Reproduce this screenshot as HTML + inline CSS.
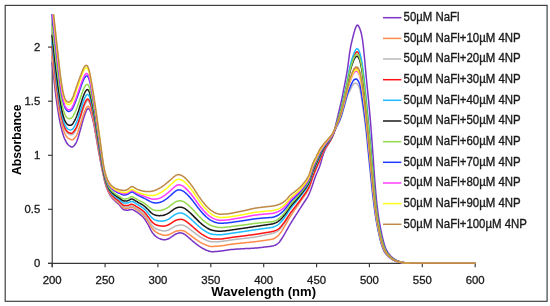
<!DOCTYPE html>
<html><head><meta charset="utf-8"><title>chart</title>
<style>
html,body{margin:0;padding:0;background:#fff;}
body{width:550px;height:306px;overflow:hidden;}
svg{display:block;}
text{font-family:"Liberation Sans",sans-serif;fill:#1a1a1a;}
.t{font-size:11.3px;stroke:#1a1a1a;stroke-width:0.3px;}
.b{font-size:13px;font-weight:bold;fill:#000;}
.l{font-size:12.2px;stroke:#1a1a1a;stroke-width:0.35px;}
</style></head><body>
<svg width="550" height="306" viewBox="0 0 550 306">
<rect x="0" y="0" width="550" height="306" fill="#fff"/>
<rect x="5.2" y="5.4" width="541.9" height="295.9" fill="none" stroke="#404040" stroke-width="1.2"/>

<g stroke="#383838" stroke-width="1.15" fill="none">
<path d="M52.2 14.3V267.2M48 263.4H475.2"/>
<path d="M48 263.4H52.2"/>
<path d="M48 209.3H52.2"/>
<path d="M48 155.3H52.2"/>
<path d="M48 101.2H52.2"/>
<path d="M48 47.1H52.2"/>
<path d="M52.2 263.4V267.2"/>
<path d="M105.1 263.4V267.2"/>
<path d="M157.9 263.4V267.2"/>
<path d="M210.8 263.4V267.2"/>
<path d="M263.7 263.4V267.2"/>
<path d="M316.6 263.4V267.2"/>
<path d="M369.4 263.4V267.2"/>
<path d="M422.3 263.4V267.2"/>
<path d="M475.2 263.4V267.2"/>
</g>
<text class="t" x="40.3" y="267.3" text-anchor="end">0</text>
<text class="t" x="40.3" y="213.2" text-anchor="end">0.5</text>
<text class="t" x="40.3" y="159.2" text-anchor="end">1</text>
<text class="t" x="40.3" y="105.1" text-anchor="end">1.5</text>
<text class="t" x="40.3" y="51.0" text-anchor="end">2</text>
<text class="t" x="52.2" y="283.8" text-anchor="middle" textLength="19" lengthAdjust="spacingAndGlyphs">200</text>
<text class="t" x="105.1" y="283.8" text-anchor="middle" textLength="19" lengthAdjust="spacingAndGlyphs">250</text>
<text class="t" x="157.9" y="283.8" text-anchor="middle" textLength="19" lengthAdjust="spacingAndGlyphs">300</text>
<text class="t" x="210.8" y="283.8" text-anchor="middle" textLength="19" lengthAdjust="spacingAndGlyphs">350</text>
<text class="t" x="263.7" y="283.8" text-anchor="middle" textLength="19" lengthAdjust="spacingAndGlyphs">400</text>
<text class="t" x="316.6" y="283.8" text-anchor="middle" textLength="19" lengthAdjust="spacingAndGlyphs">450</text>
<text class="t" x="369.4" y="283.8" text-anchor="middle" textLength="19" lengthAdjust="spacingAndGlyphs">500</text>
<text class="t" x="422.3" y="283.8" text-anchor="middle" textLength="19" lengthAdjust="spacingAndGlyphs">550</text>
<text class="t" x="475.2" y="283.8" text-anchor="middle" textLength="19" lengthAdjust="spacingAndGlyphs">600</text>
<text class="b" x="263.7" y="296.2" text-anchor="middle" textLength="104.7" lengthAdjust="spacingAndGlyphs">Wavelength (nm)</text>
<text class="b" transform="translate(21.2 139.8) rotate(-90)" text-anchor="middle" textLength="70.5" lengthAdjust="spacingAndGlyphs">Absorbance</text>
<defs><clipPath id="c"><rect x="50" y="14.3" width="430" height="251"/></clipPath></defs>
<g fill="none" stroke-width="1.5" stroke-linejoin="round" stroke-linecap="round" clip-path="url(#c)">
<polyline stroke="#7a35c4" points="52.0,62.7 52.5,66.1 53.0,70.4 53.5,75.0 54.0,79.7 54.5,84.3 55.0,88.7 55.5,92.9 56.0,96.9 56.5,100.7 57.0,104.3 57.5,107.6 58.0,110.9 58.5,113.9 59.0,116.8 59.5,119.5 60.0,122.0 60.5,124.3 61.0,126.6 61.5,128.7 62.0,130.7 62.5,132.5 63.0,134.2 63.5,135.8 64.0,137.2 64.5,138.5 65.0,139.6 65.5,140.7 66.0,141.6 66.5,142.5 67.0,143.3 67.5,143.9 68.0,144.5 68.5,145.0 69.0,145.5 69.5,145.9 70.0,146.2 70.5,146.5 71.0,146.8 71.5,146.9 72.0,147.0 72.5,146.9 73.0,146.6 73.5,146.3 74.0,145.8 74.5,145.2 75.0,144.5 75.5,143.8 76.0,143.0 76.5,142.0 77.0,140.8 77.5,139.4 78.0,137.9 78.5,136.2 79.0,134.5 79.5,132.8 80.0,131.0 80.5,129.3 81.0,127.5 81.5,125.7 82.0,123.9 82.5,122.0 83.0,120.3 83.5,118.6 84.0,117.0 84.5,115.5 85.0,114.0 85.5,112.7 86.0,111.5 86.5,110.4 87.0,109.6 87.5,109.0 88.0,108.7 88.5,108.7 89.0,109.0 89.5,109.6 90.0,110.5 90.5,111.7 91.0,113.2 91.5,114.9 92.0,116.7 92.5,118.6 93.0,120.6 93.5,122.7 94.0,125.1 94.5,127.6 95.0,130.3 95.5,133.1 96.0,136.1 96.5,139.1 97.0,142.1 97.5,145.1 98.0,148.0 98.5,150.8 99.0,153.5 99.5,156.2 100.0,158.9 100.5,161.5 101.0,164.1 101.5,166.6 102.0,169.1 102.5,171.5 103.0,173.8 103.5,176.1 104.0,178.4 104.5,180.5 105.0,182.5 105.5,184.3 106.0,186.0 106.5,187.4 107.0,188.8 107.5,190.0 108.0,191.2 108.5,192.3 109.0,193.2 109.5,194.2 110.0,195.0 110.5,195.8 111.0,196.5 111.5,197.1 112.0,197.8 112.5,198.4 113.0,198.9 113.5,199.5 114.0,200.0 114.5,200.5 115.0,201.0 115.5,201.4 116.0,201.9 116.5,202.3 117.0,202.7 117.5,203.2 118.0,203.6 118.5,204.0 119.0,204.5 119.5,205.1 120.0,205.7 120.5,206.3 121.0,207.0 121.5,207.6 122.0,208.3 122.5,208.8 123.0,209.2 123.5,209.6 124.0,209.8 124.5,209.9 125.0,210.0 125.5,210.1 126.0,210.1 126.5,210.2 127.0,210.2 127.5,210.2 128.0,210.2 128.5,210.1 129.0,210.0 129.5,209.8 130.0,209.7 130.5,209.5 131.0,209.4 131.5,209.3 132.0,209.4 132.5,209.6 133.0,209.8 133.5,210.1 134.0,210.4 134.5,210.7 135.0,211.0 135.5,211.3 136.0,211.6 136.5,211.9 137.0,212.2 137.5,212.5 138.0,212.9 138.5,213.2 139.0,213.6 139.5,214.0 140.0,214.4 140.5,214.8 141.0,215.2 141.5,215.6 142.0,216.0 142.5,216.5 143.0,217.0 143.5,217.6 144.0,218.2 144.5,218.8 145.0,219.5 145.5,220.3 146.0,221.1 146.5,221.9 147.0,222.8 147.5,223.6 148.0,224.5 148.5,225.4 149.0,226.4 149.5,227.4 150.0,228.4 150.5,229.4 151.0,230.3 151.5,231.2 152.0,232.0 152.5,232.7 153.0,233.4 153.5,234.0 154.0,234.6 154.5,235.1 155.0,235.6 155.5,236.1 156.0,236.5 156.5,236.9 157.0,237.2 157.5,237.6 158.0,237.9 158.5,238.1 159.0,238.4 159.5,238.6 160.0,238.8 160.5,239.0 161.0,239.2 161.5,239.3 162.0,239.5 162.5,239.6 163.0,239.7 163.5,239.8 164.0,239.8 164.5,239.8 165.0,239.7 165.5,239.7 166.0,239.6 166.5,239.4 167.0,239.3 167.5,239.2 168.0,239.0 168.5,238.8 169.0,238.5 169.5,238.2 170.0,237.9 170.5,237.6 171.0,237.2 171.5,236.9 172.0,236.5 172.5,236.2 173.0,235.8 173.5,235.5 174.0,235.1 174.5,234.8 175.0,234.5 175.5,234.2 176.0,234.0 176.5,233.8 177.0,233.6 177.5,233.4 178.0,233.2 178.5,233.1 179.0,233.0 179.5,232.9 180.0,232.8 180.5,232.8 181.0,232.9 181.5,233.0 182.0,233.1 182.5,233.3 183.0,233.5 183.5,233.7 184.0,234.0 184.5,234.3 185.0,234.6 185.5,234.9 186.0,235.3 186.5,235.7 187.0,236.2 187.5,236.6 188.0,237.0 188.5,237.4 189.0,237.8 189.5,238.3 190.0,238.7 190.5,239.1 191.0,239.6 191.5,240.0 192.0,240.5 192.5,240.9 193.0,241.4 193.5,241.8 194.0,242.2 194.5,242.6 195.0,243.0 195.5,243.4 196.0,243.8 196.5,244.2 197.0,244.5 197.5,244.9 198.0,245.3 198.5,245.7 199.0,246.0 199.5,246.4 200.0,246.7 200.5,247.1 201.0,247.4 201.5,247.7 202.0,248.0 202.5,248.2 203.0,248.5 203.5,248.7 204.0,249.0 204.5,249.2 205.0,249.5 205.5,249.7 206.0,250.0 206.5,250.2 207.0,250.4 207.5,250.6 208.0,250.8 208.5,251.0 209.0,251.2 209.5,251.3 210.0,251.5 210.5,251.6 211.0,251.6 211.5,251.7 212.0,251.7 212.5,251.7 213.0,251.7 213.5,251.7 214.0,251.7 214.5,251.6 215.0,251.6 215.5,251.6 216.0,251.5 216.5,251.5 217.0,251.4 217.5,251.4 218.0,251.3 218.5,251.3 219.0,251.2 219.5,251.2 220.0,251.1 220.5,251.1 221.0,251.0 221.5,251.0 222.0,250.9 222.5,250.8 223.0,250.8 223.5,250.7 224.0,250.6 224.5,250.6 225.0,250.5 225.5,250.4 226.0,250.3 226.5,250.2 227.0,250.1 227.5,250.0 228.0,250.0 228.5,249.9 229.0,249.8 229.5,249.8 230.0,249.7 230.5,249.6 231.0,249.6 231.5,249.5 232.0,249.5 232.5,249.5 233.0,249.4 233.5,249.4 234.0,249.3 234.5,249.3 235.0,249.2 235.5,249.2 236.0,249.2 236.5,249.1 237.0,249.1 237.5,249.1 238.0,249.0 238.5,249.0 239.0,249.0 239.5,248.9 240.0,248.9 240.5,248.9 241.0,248.8 241.5,248.8 242.0,248.8 242.5,248.8 243.0,248.7 243.5,248.7 244.0,248.7 244.5,248.7 245.0,248.6 245.5,248.6 246.0,248.6 246.5,248.6 247.0,248.5 247.5,248.5 248.0,248.5 248.5,248.5 249.0,248.4 249.5,248.4 250.0,248.4 250.5,248.4 251.0,248.3 251.5,248.3 252.0,248.3 252.5,248.3 253.0,248.2 253.5,248.2 254.0,248.2 254.5,248.1 255.0,248.1 255.5,248.1 256.0,248.0 256.5,248.0 257.0,247.9 257.5,247.9 258.0,247.8 258.5,247.8 259.0,247.7 259.5,247.7 260.0,247.6 260.5,247.6 261.0,247.5 261.5,247.4 262.0,247.4 262.5,247.3 263.0,247.2 263.5,247.2 264.0,247.1 264.5,247.1 265.0,247.0 265.5,246.9 266.0,246.9 266.5,246.8 267.0,246.8 267.5,246.7 268.0,246.7 268.5,246.6 269.0,246.6 269.5,246.5 270.0,246.4 270.5,246.4 271.0,246.3 271.5,246.2 272.0,246.1 272.5,246.0 273.0,245.9 273.5,245.8 274.0,245.6 274.5,245.4 275.0,245.2 275.5,245.0 276.0,244.8 276.5,244.5 277.0,244.2 277.5,243.9 278.0,243.5 278.5,243.0 279.0,242.5 279.5,241.9 280.0,241.2 280.5,240.5 281.0,239.8 281.5,239.0 282.0,238.3 282.5,237.5 283.0,236.7 283.5,235.8 284.0,235.0 284.5,234.1 285.0,233.3 285.5,232.4 286.0,231.5 286.5,230.6 287.0,229.7 287.5,228.8 288.0,227.9 288.5,227.0 289.0,226.1 289.5,225.3 290.0,224.4 290.5,223.6 291.0,222.8 291.5,222.0 292.0,221.2 292.5,220.4 293.0,219.6 293.5,218.8 294.0,218.0 294.5,217.3 295.0,216.5 295.5,215.7 296.0,214.9 296.5,214.1 297.0,213.3 297.5,212.6 298.0,211.8 298.5,211.0 299.0,210.2 299.5,209.4 300.0,208.6 300.5,207.9 301.0,207.1 301.5,206.3 302.0,205.5 302.5,204.7 303.0,204.0 303.5,203.2 304.0,202.5 304.5,201.8 305.0,201.0 305.5,200.3 306.0,199.5 306.5,198.7 307.0,197.9 307.5,197.1 308.0,196.2 308.5,195.2 309.0,194.1 309.5,193.0 310.0,191.8 310.5,190.5 311.0,189.2 311.5,187.8 312.0,186.4 312.5,184.9 313.0,183.4 313.5,181.9 314.0,180.5 314.5,179.1 315.0,177.7 315.5,176.3 316.0,175.0 316.5,173.8 317.0,172.7 317.5,171.5 318.0,170.4 318.5,169.3 319.0,168.1 319.5,166.8 320.0,165.4 320.5,163.8 321.0,162.1 321.5,160.2 322.0,158.4 322.5,156.7 323.0,155.2 323.5,153.8 324.0,152.5 324.5,151.3 325.0,150.1 325.5,149.1 326.0,148.0 326.5,147.1 327.0,146.2 327.5,145.4 328.0,144.6 328.5,143.8 329.0,143.0 329.5,142.1 330.0,141.2 330.5,140.2 331.0,139.2 331.5,138.2 332.0,137.0 332.5,135.8 333.0,134.4 333.5,132.9 334.0,131.2 334.5,129.5 335.0,127.6 335.5,125.6 336.0,123.6 336.5,121.6 337.0,119.5 337.5,117.4 338.0,115.3 338.5,113.2 339.0,111.1 339.5,109.1 340.0,107.0 340.5,104.8 341.0,102.6 341.5,100.4 342.0,98.0 342.5,95.6 343.0,93.1 343.5,90.5 344.0,87.9 344.5,85.3 345.0,82.7 345.5,80.2 346.0,77.6 346.5,75.0 347.0,72.1 347.5,68.9 348.0,65.3 348.5,61.4 349.0,57.5 349.5,53.8 350.0,50.6 350.5,47.7 351.0,45.2 351.5,42.9 352.0,40.8 352.5,38.7 353.0,36.7 353.5,34.8 354.0,32.9 354.5,31.1 355.0,29.5 355.5,28.0 356.0,26.8 356.5,25.9 357.0,25.3 357.5,25.1 358.0,25.3 358.5,25.9 359.0,26.8 359.5,27.9 360.0,29.2 360.5,30.7 361.0,32.3 361.5,34.3 362.0,36.8 362.5,39.9 363.0,43.6 363.5,48.0 364.0,52.8 364.5,58.0 365.0,63.5 365.5,69.1 366.0,74.6 366.5,79.9 367.0,85.0 367.5,90.0 368.0,94.9 368.5,99.9 369.0,105.1 369.5,110.5 370.0,116.1 370.5,122.1 371.0,128.3 371.5,134.7 372.0,141.4 372.5,148.2 373.0,155.2 373.5,162.4 374.0,169.6 374.5,176.6 375.0,183.2 375.5,189.4 376.0,195.0 376.5,200.2 377.0,204.9 377.5,209.1 378.0,213.0 378.5,216.4 379.0,219.6 379.5,222.6 380.0,225.4 380.5,228.1 381.0,230.6 381.5,233.0 382.0,235.4 382.5,237.5 383.0,239.6 383.5,241.5 384.0,243.3 384.5,244.9 385.0,246.4 385.5,247.8 386.0,249.0 386.5,250.0 387.0,251.0 387.5,251.8 388.0,252.6 388.5,253.3 389.0,254.0 389.5,254.6 390.0,255.2 390.5,255.8 391.0,256.3 391.5,256.8 392.0,257.2 392.5,257.6 393.0,258.0 393.5,258.4 394.0,258.7 394.5,259.1 395.0,259.4 395.5,259.7 396.0,260.0 396.5,260.3 397.0,260.6 397.5,260.8 398.0,261.0 398.5,261.2 399.0,261.3 399.5,261.5 400.0,261.6 400.5,261.8 401.0,261.9 401.5,262.0 402.0,262.1 402.5,262.2 403.0,262.3 403.5,262.4 404.0,262.5 404.5,262.6 405.0,262.7 405.5,262.7 406.0,262.8 406.5,262.9 407.0,262.9 407.5,262.9 408.0,263.0 408.5,263.0 409.0,263.1 409.5,263.1 410.0,263.1 410.5,263.1 411.0,263.1 411.5,263.1 412.0,263.2 412.5,263.2 413.0,263.2 413.5,263.2 414.0,263.2 414.5,263.2 415.0,263.2 415.5,263.2 416.0,263.2 416.5,263.2 417.0,263.2 417.5,263.2 418.0,263.2 418.5,263.2 419.0,263.2 419.5,263.2 420.0,263.2 420.5,263.2 421.0,263.2 421.5,263.2 422.0,263.2 422.5,263.2 423.0,263.2 423.5,263.2 424.0,263.2 424.5,263.2 425.0,263.2 425.5,263.2 426.0,263.2 426.5,263.2 427.0,263.2 427.5,263.2 428.0,263.2 428.5,263.2 429.0,263.2 429.5,263.2 430.0,263.2 430.5,263.2 431.0,263.2 431.5,263.2 432.0,263.2 432.5,263.2 433.0,263.2 433.5,263.2 434.0,263.2 434.5,263.2 435.0,263.2 435.5,263.2 436.0,263.2 436.5,263.2 437.0,263.2 437.5,263.2 438.0,263.2 438.5,263.2 439.0,263.2 439.5,263.2 440.0,263.2 440.5,263.2 441.0,263.2 441.5,263.2 442.0,263.2 442.5,263.2 443.0,263.2 443.5,263.2 444.0,263.2 444.5,263.2 445.0,263.2 445.5,263.2 446.0,263.2 446.5,263.2 447.0,263.2 447.5,263.2 448.0,263.2 448.5,263.2 449.0,263.2 449.5,263.2 450.0,263.2 450.5,263.2 451.0,263.2 451.5,263.2 452.0,263.2 452.5,263.2 453.0,263.2 453.5,263.2 454.0,263.2 454.5,263.2 455.0,263.2 455.5,263.2 456.0,263.2 456.5,263.2 457.0,263.2 457.5,263.2 458.0,263.2 458.5,263.2 459.0,263.2 459.5,263.2 460.0,263.2 460.5,263.2 461.0,263.2 461.5,263.2 462.0,263.2 462.5,263.2 463.0,263.2 463.5,263.2 464.0,263.2 464.5,263.2 465.0,263.2 465.5,263.2 466.0,263.2 466.5,263.2 467.0,263.2 467.5,263.2 468.0,263.2 468.5,263.2 469.0,263.2 469.5,263.2 470.0,263.2 470.5,263.2 471.0,263.2 471.5,263.2 472.0,263.2 472.5,263.2 473.0,263.2 473.5,263.2 474.0,263.2 474.5,263.2 475.0,263.2"/>
<polyline stroke="#ff8c4a" points="52.0,56.7 52.5,60.1 53.0,64.2 53.5,68.7 54.0,73.3 54.5,77.8 55.0,82.1 55.5,86.3 56.0,90.2 56.5,94.0 57.0,97.6 57.5,101.0 58.0,104.2 58.5,107.4 59.0,110.3 59.5,113.1 60.0,115.8 60.5,118.2 61.0,120.6 61.5,122.8 62.0,124.8 62.5,126.8 63.0,128.5 63.5,130.1 64.0,131.5 64.5,132.7 65.0,133.8 65.5,134.8 66.0,135.7 66.5,136.4 67.0,137.1 67.5,137.6 68.0,138.0 68.5,138.4 69.0,138.6 69.5,138.9 70.0,139.2 70.5,139.4 71.0,139.7 71.5,139.8 72.0,139.8 72.5,139.8 73.0,139.5 73.5,139.2 74.0,138.7 74.5,138.2 75.0,137.6 75.5,136.9 76.0,136.2 76.5,135.3 77.0,134.2 77.5,133.0 78.0,131.7 78.5,130.2 79.0,128.7 79.5,127.2 80.0,125.6 80.5,124.1 81.0,122.5 81.5,120.9 82.0,119.3 82.5,117.7 83.0,116.1 83.5,114.6 84.0,113.2 84.5,111.9 85.0,110.7 85.5,109.5 86.0,108.5 86.5,107.7 87.0,107.0 87.5,106.6 88.0,106.4 88.5,106.4 89.0,106.8 89.5,107.4 90.0,108.4 90.5,109.7 91.0,111.2 91.5,112.9 92.0,114.8 92.5,116.7 93.0,118.8 93.5,121.0 94.0,123.3 94.5,125.9 95.0,128.6 95.5,131.5 96.0,134.5 96.5,137.5 97.0,140.6 97.5,143.5 98.0,146.4 98.5,149.3 99.0,152.1 99.5,154.9 100.0,157.6 100.5,160.3 101.0,162.9 101.5,165.5 102.0,168.0 102.5,170.5 103.0,172.9 103.5,175.3 104.0,177.6 104.5,179.7 105.0,181.7 105.5,183.6 106.0,185.2 106.5,186.7 107.0,188.0 107.5,189.2 108.0,190.4 108.5,191.4 109.0,192.4 109.5,193.3 110.0,194.1 110.5,194.9 111.0,195.6 111.5,196.2 112.0,196.8 112.5,197.4 113.0,197.9 113.5,198.5 114.0,199.0 114.5,199.5 115.0,199.9 115.5,200.4 116.0,200.8 116.5,201.2 117.0,201.6 117.5,202.0 118.0,202.4 118.5,202.8 119.0,203.2 119.5,203.7 120.0,204.3 120.5,204.9 121.0,205.5 121.5,206.1 122.0,206.6 122.5,207.1 123.0,207.5 123.5,207.8 124.0,208.0 124.5,208.1 125.0,208.2 125.5,208.2 126.0,208.2 126.5,208.2 127.0,208.2 127.5,208.2 128.0,208.2 128.5,208.0 129.0,207.9 129.5,207.7 130.0,207.5 130.5,207.3 131.0,207.1 131.5,207.1 132.0,207.1 132.5,207.3 133.0,207.5 133.5,207.8 134.0,208.1 134.5,208.4 135.0,208.7 135.5,209.0 136.0,209.3 136.5,209.6 137.0,209.9 137.5,210.3 138.0,210.6 138.5,210.9 139.0,211.3 139.5,211.6 140.0,212.0 140.5,212.4 141.0,212.8 141.5,213.2 142.0,213.6 142.5,214.0 143.0,214.5 143.5,215.0 144.0,215.6 144.5,216.2 145.0,216.8 145.5,217.5 146.0,218.2 146.5,219.0 147.0,219.7 147.5,220.5 148.0,221.3 148.5,222.2 149.0,223.0 149.5,223.9 150.0,224.9 150.5,225.7 151.0,226.6 151.5,227.4 152.0,228.1 152.5,228.7 153.0,229.3 153.5,229.9 154.0,230.4 154.5,230.9 155.0,231.3 155.5,231.7 156.0,232.1 156.5,232.4 157.0,232.7 157.5,233.0 158.0,233.2 158.5,233.5 159.0,233.7 159.5,233.9 160.0,234.1 160.5,234.2 161.0,234.4 161.5,234.6 162.0,234.8 162.5,235.0 163.0,235.1 163.5,235.2 164.0,235.3 164.5,235.3 165.0,235.4 165.5,235.3 166.0,235.3 166.5,235.2 167.0,235.2 167.5,235.1 168.0,235.0 168.5,234.8 169.0,234.7 169.5,234.4 170.0,234.2 170.5,233.9 171.0,233.6 171.5,233.4 172.0,233.1 172.5,232.8 173.0,232.6 173.5,232.3 174.0,232.1 174.5,231.8 175.0,231.6 175.5,231.4 176.0,231.3 176.5,231.1 177.0,231.0 177.5,230.9 178.0,230.9 178.5,230.8 179.0,230.7 179.5,230.6 180.0,230.5 180.5,230.4 181.0,230.4 181.5,230.4 182.0,230.5 182.5,230.6 183.0,230.7 183.5,230.9 184.0,231.0 184.5,231.3 185.0,231.5 185.5,231.8 186.0,232.1 186.5,232.4 187.0,232.8 187.5,233.1 188.0,233.5 188.5,233.8 189.0,234.2 189.5,234.5 190.0,234.9 190.5,235.3 191.0,235.7 191.5,236.1 192.0,236.5 192.5,236.8 193.0,237.2 193.5,237.6 194.0,238.0 194.5,238.3 195.0,238.7 195.5,239.0 196.0,239.4 196.5,239.7 197.0,240.1 197.5,240.4 198.0,240.8 198.5,241.1 199.0,241.4 199.5,241.8 200.0,242.1 200.5,242.4 201.0,242.7 201.5,242.9 202.0,243.2 202.5,243.4 203.0,243.7 203.5,243.9 204.0,244.1 204.5,244.3 205.0,244.6 205.5,244.8 206.0,245.0 206.5,245.2 207.0,245.4 207.5,245.6 208.0,245.8 208.5,245.9 209.0,246.1 209.5,246.2 210.0,246.3 210.5,246.4 211.0,246.4 211.5,246.5 212.0,246.5 212.5,246.5 213.0,246.4 213.5,246.4 214.0,246.4 214.5,246.3 215.0,246.3 215.5,246.3 216.0,246.2 216.5,246.2 217.0,246.2 217.5,246.2 218.0,246.1 218.5,246.1 219.0,246.1 219.5,246.0 220.0,246.0 220.5,245.9 221.0,245.8 221.5,245.8 222.0,245.7 222.5,245.7 223.0,245.6 223.5,245.5 224.0,245.4 224.5,245.4 225.0,245.3 225.5,245.2 226.0,245.1 226.5,245.0 227.0,244.9 227.5,244.8 228.0,244.7 228.5,244.7 229.0,244.6 229.5,244.5 230.0,244.4 230.5,244.4 231.0,244.3 231.5,244.2 232.0,244.2 232.5,244.1 233.0,244.0 233.5,244.0 234.0,243.9 234.5,243.8 235.0,243.8 235.5,243.7 236.0,243.7 236.5,243.6 237.0,243.6 237.5,243.5 238.0,243.5 238.5,243.4 239.0,243.4 239.5,243.3 240.0,243.2 240.5,243.2 241.0,243.1 241.5,243.1 242.0,243.0 242.5,243.0 243.0,242.9 243.5,242.9 244.0,242.8 244.5,242.8 245.0,242.7 245.5,242.7 246.0,242.7 246.5,242.6 247.0,242.6 247.5,242.5 248.0,242.5 248.5,242.4 249.0,242.4 249.5,242.3 250.0,242.3 250.5,242.2 251.0,242.1 251.5,242.1 252.0,242.0 252.5,242.0 253.0,241.9 253.5,241.9 254.0,241.8 254.5,241.8 255.0,241.7 255.5,241.7 256.0,241.6 256.5,241.5 257.0,241.5 257.5,241.4 258.0,241.3 258.5,241.3 259.0,241.2 259.5,241.1 260.0,241.0 260.5,241.0 261.0,240.9 261.5,240.8 262.0,240.7 262.5,240.7 263.0,240.6 263.5,240.5 264.0,240.4 264.5,240.4 265.0,240.3 265.5,240.2 266.0,240.2 266.5,240.1 267.0,240.0 267.5,239.9 268.0,239.9 268.5,239.8 269.0,239.7 269.5,239.7 270.0,239.6 270.5,239.5 271.0,239.4 271.5,239.3 272.0,239.2 272.5,239.1 273.0,239.0 273.5,238.8 274.0,238.5 274.5,238.3 275.0,238.0 275.5,237.7 276.0,237.4 276.5,237.0 277.0,236.6 277.5,236.2 278.0,235.8 278.5,235.3 279.0,234.7 279.5,234.1 280.0,233.5 280.5,232.8 281.0,232.1 281.5,231.3 282.0,230.6 282.5,229.8 283.0,229.0 283.5,228.2 284.0,227.4 284.5,226.5 285.0,225.7 285.5,224.8 286.0,224.0 286.5,223.1 287.0,222.2 287.5,221.3 288.0,220.4 288.5,219.5 289.0,218.6 289.5,217.8 290.0,216.9 290.5,216.1 291.0,215.3 291.5,214.6 292.0,213.8 292.5,213.1 293.0,212.3 293.5,211.6 294.0,210.8 294.5,210.1 295.0,209.4 295.5,208.6 296.0,207.9 296.5,207.2 297.0,206.4 297.5,205.7 298.0,205.0 298.5,204.2 299.0,203.5 299.5,202.8 300.0,202.1 300.5,201.3 301.0,200.6 301.5,199.9 302.0,199.2 302.5,198.5 303.0,197.8 303.5,197.1 304.0,196.4 304.5,195.7 305.0,195.0 305.5,194.3 306.0,193.5 306.5,192.8 307.0,192.0 307.5,191.1 308.0,190.2 308.5,189.2 309.0,188.2 309.5,187.0 310.0,185.7 310.5,184.3 311.0,182.9 311.5,181.4 312.0,179.9 312.5,178.5 313.0,177.1 313.5,175.8 314.0,174.4 314.5,173.1 315.0,171.9 315.5,170.6 316.0,169.5 316.5,168.3 317.0,167.2 317.5,166.1 318.0,165.0 318.5,164.0 319.0,162.9 319.5,161.7 320.0,160.5 320.5,159.2 321.0,157.8 321.5,156.4 322.0,155.1 322.5,153.8 323.0,152.6 323.5,151.6 324.0,150.6 324.5,149.7 325.0,148.9 325.5,148.1 326.0,147.3 326.5,146.5 327.0,145.7 327.5,144.9 328.0,144.2 328.5,143.4 329.0,142.7 329.5,142.0 330.0,141.2 330.5,140.4 331.0,139.6 331.5,138.6 332.0,137.7 332.5,136.6 333.0,135.4 333.5,134.2 334.0,132.9 334.5,131.6 335.0,130.2 335.5,128.9 336.0,127.6 336.5,126.2 337.0,124.9 337.5,123.7 338.0,122.4 338.5,121.2 339.0,119.8 339.5,118.5 340.0,117.0 340.5,115.5 341.0,113.9 341.5,112.1 342.0,110.3 342.5,108.4 343.0,106.4 343.5,104.4 344.0,102.4 344.5,100.5 345.0,98.5 345.5,96.5 346.0,94.5 346.5,92.5 347.0,90.5 347.5,88.6 348.0,86.7 348.5,84.9 349.0,83.1 349.5,81.4 350.0,79.8 350.5,78.3 351.0,76.8 351.5,75.4 352.0,74.1 352.5,72.9 353.0,71.9 353.5,70.9 354.0,70.1 354.5,69.4 355.0,68.8 355.5,68.4 356.0,68.1 356.5,68.1 357.0,68.2 357.5,68.5 358.0,69.1 358.5,69.8 359.0,70.8 359.5,72.2 360.0,73.9 360.5,76.0 361.0,78.5 361.5,81.3 362.0,84.4 362.5,87.8 363.0,91.3 363.5,95.0 364.0,98.9 364.5,102.9 365.0,107.2 365.5,111.6 366.0,116.2 366.5,121.0 367.0,126.0 367.5,131.0 368.0,136.1 368.5,141.1 369.0,146.1 369.5,151.1 370.0,156.2 370.5,161.3 371.0,166.5 371.5,171.7 372.0,176.8 372.5,181.9 373.0,186.9 373.5,191.9 374.0,196.7 374.5,201.3 375.0,205.6 375.5,209.7 376.0,213.4 376.5,216.8 377.0,219.9 377.5,222.9 378.0,225.7 378.5,228.4 379.0,230.9 379.5,233.3 380.0,235.7 380.5,237.8 381.0,239.9 381.5,241.8 382.0,243.5 382.5,245.1 383.0,246.6 383.5,247.9 384.0,249.1 384.5,250.2 385.0,251.1 385.5,252.0 386.0,252.7 386.5,253.4 387.0,254.1 387.5,254.7 388.0,255.3 388.5,255.8 389.0,256.3 389.5,256.8 390.0,257.3 390.5,257.7 391.0,258.1 391.5,258.4 392.0,258.8 392.5,259.1 393.0,259.4 393.5,259.8 394.0,260.0 394.5,260.3 395.0,260.6 395.5,260.8 396.0,261.0 396.5,261.2 397.0,261.4 397.5,261.5 398.0,261.6 398.5,261.8 399.0,261.9 399.5,262.0 400.0,262.1 400.5,262.2 401.0,262.3 401.5,262.4 402.0,262.5 402.5,262.6 403.0,262.7 403.5,262.7 404.0,262.8 404.5,262.9 405.0,262.9 405.5,263.0 406.0,263.0 406.5,263.0 407.0,263.1 407.5,263.1 408.0,263.1 408.5,263.1 409.0,263.1 409.5,263.1 410.0,263.2 410.5,263.2 411.0,263.2 411.5,263.2 412.0,263.2 412.5,263.2 413.0,263.2 413.5,263.2 414.0,263.2 414.5,263.2 415.0,263.2 415.5,263.2 416.0,263.2 416.5,263.2 417.0,263.2 417.5,263.2 418.0,263.2 418.5,263.2 419.0,263.2 419.5,263.2 420.0,263.2 420.5,263.2 421.0,263.2 421.5,263.2 422.0,263.2 422.5,263.2 423.0,263.2 423.5,263.2 424.0,263.2 424.5,263.2 425.0,263.2 425.5,263.2 426.0,263.2 426.5,263.2 427.0,263.2 427.5,263.2 428.0,263.2 428.5,263.2 429.0,263.2 429.5,263.2 430.0,263.2 430.5,263.2 431.0,263.2 431.5,263.2 432.0,263.2 432.5,263.2 433.0,263.2 433.5,263.2 434.0,263.2 434.5,263.2 435.0,263.2 435.5,263.2 436.0,263.2 436.5,263.2 437.0,263.2 437.5,263.2 438.0,263.2 438.5,263.2 439.0,263.2 439.5,263.2 440.0,263.2 440.5,263.2 441.0,263.2 441.5,263.2 442.0,263.2 442.5,263.2 443.0,263.2 443.5,263.2 444.0,263.2 444.5,263.2 445.0,263.2 445.5,263.2 446.0,263.2 446.5,263.2 447.0,263.2 447.5,263.2 448.0,263.2 448.5,263.2 449.0,263.2 449.5,263.2 450.0,263.2 450.5,263.2 451.0,263.2 451.5,263.2 452.0,263.2 452.5,263.2 453.0,263.2 453.5,263.2 454.0,263.2 454.5,263.2 455.0,263.2 455.5,263.2 456.0,263.2 456.5,263.2 457.0,263.2 457.5,263.2 458.0,263.2 458.5,263.2 459.0,263.2 459.5,263.2 460.0,263.2 460.5,263.2 461.0,263.2 461.5,263.2 462.0,263.2 462.5,263.2 463.0,263.2 463.5,263.2 464.0,263.2 464.5,263.2 465.0,263.2 465.5,263.2 466.0,263.2 466.5,263.2 467.0,263.2 467.5,263.2 468.0,263.2 468.5,263.2 469.0,263.2 469.5,263.2 470.0,263.2 470.5,263.2 471.0,263.2 471.5,263.2 472.0,263.2 472.5,263.2 473.0,263.2 473.5,263.2 474.0,263.2 474.5,263.2 475.0,263.2"/>
<polyline stroke="#b9b9b9" points="52.0,50.3 52.5,53.7 53.0,57.8 53.5,62.3 54.0,66.9 54.5,71.4 55.0,75.7 55.5,79.9 56.0,83.9 56.5,87.8 57.0,91.4 57.5,95.0 58.0,98.4 58.5,101.6 59.0,104.8 59.5,107.7 60.0,110.6 60.5,113.2 61.0,115.8 61.5,118.1 62.0,120.3 62.5,122.3 63.0,124.1 63.5,125.7 64.0,127.2 64.5,128.5 65.0,129.6 65.5,130.6 66.0,131.4 66.5,132.1 67.0,132.8 67.5,133.3 68.0,133.6 68.5,133.9 69.0,134.2 69.5,134.4 70.0,134.5 70.5,134.7 71.0,134.8 71.5,134.8 72.0,134.7 72.5,134.5 73.0,134.1 73.5,133.6 74.0,133.0 74.5,132.4 75.0,131.6 75.5,130.9 76.0,130.0 76.5,129.0 77.0,127.9 77.5,126.6 78.0,125.2 78.5,123.7 79.0,122.2 79.5,120.7 80.0,119.1 80.5,117.6 81.0,116.0 81.5,114.4 82.0,112.8 82.5,111.2 83.0,109.7 83.5,108.3 84.0,106.9 84.5,105.6 85.0,104.4 85.5,103.4 86.0,102.5 86.5,101.7 87.0,101.2 87.5,100.9 88.0,100.8 88.5,101.1 89.0,101.7 89.5,102.5 90.0,103.7 90.5,105.2 91.0,106.9 91.5,108.8 92.0,110.8 92.5,112.9 93.0,115.2 93.5,117.5 94.0,120.0 94.5,122.7 95.0,125.5 95.5,128.5 96.0,131.5 96.5,134.6 97.0,137.8 97.5,140.8 98.0,143.9 98.5,146.8 99.0,149.8 99.5,152.7 100.0,155.5 100.5,158.3 101.0,161.1 101.5,163.8 102.0,166.5 102.5,169.1 103.0,171.7 103.5,174.1 104.0,176.5 104.5,178.7 105.0,180.7 105.5,182.5 106.0,184.2 106.5,185.7 107.0,187.0 107.5,188.3 108.0,189.4 108.5,190.5 109.0,191.4 109.5,192.3 110.0,193.1 110.5,193.9 111.0,194.6 111.5,195.2 112.0,195.8 112.5,196.4 113.0,196.9 113.5,197.5 114.0,198.0 114.5,198.4 115.0,198.9 115.5,199.3 116.0,199.8 116.5,200.2 117.0,200.5 117.5,200.9 118.0,201.3 118.5,201.7 119.0,202.2 119.5,202.7 120.0,203.2 120.5,203.8 121.0,204.4 121.5,204.9 122.0,205.5 122.5,205.9 123.0,206.3 123.5,206.6 124.0,206.8 124.5,206.9 125.0,207.0 125.5,207.1 126.0,207.1 126.5,207.1 127.0,207.1 127.5,207.1 128.0,207.1 128.5,206.9 129.0,206.8 129.5,206.6 130.0,206.4 130.5,206.2 131.0,206.1 131.5,206.0 132.0,206.1 132.5,206.2 133.0,206.4 133.5,206.7 134.0,207.0 134.5,207.3 135.0,207.6 135.5,207.9 136.0,208.2 136.5,208.5 137.0,208.8 137.5,209.1 138.0,209.4 138.5,209.7 139.0,210.0 139.5,210.4 140.0,210.7 140.5,211.0 141.0,211.4 141.5,211.8 142.0,212.2 142.5,212.6 143.0,213.0 143.5,213.5 144.0,214.0 144.5,214.5 145.0,215.1 145.5,215.8 146.0,216.4 146.5,217.1 147.0,217.8 147.5,218.5 148.0,219.3 148.5,220.0 149.0,220.8 149.5,221.6 150.0,222.5 150.5,223.3 151.0,224.0 151.5,224.7 152.0,225.3 152.5,225.9 153.0,226.4 153.5,226.9 154.0,227.4 154.5,227.8 155.0,228.1 155.5,228.5 156.0,228.7 156.5,229.0 157.0,229.2 157.5,229.4 158.0,229.6 158.5,229.8 159.0,229.9 159.5,230.1 160.0,230.2 160.5,230.3 161.0,230.4 161.5,230.6 162.0,230.7 162.5,230.8 163.0,230.9 163.5,230.9 164.0,231.0 164.5,230.9 165.0,230.9 165.5,230.8 166.0,230.7 166.5,230.6 167.0,230.5 167.5,230.4 168.0,230.2 168.5,230.0 169.0,229.8 169.5,229.5 170.0,229.3 170.5,229.0 171.0,228.6 171.5,228.3 172.0,228.0 172.5,227.7 173.0,227.4 173.5,227.1 174.0,226.8 174.5,226.6 175.0,226.3 175.5,226.1 176.0,225.9 176.5,225.8 177.0,225.6 177.5,225.5 178.0,225.4 178.5,225.3 179.0,225.2 179.5,225.1 180.0,225.0 180.5,224.9 181.0,224.9 181.5,224.9 182.0,224.9 182.5,225.0 183.0,225.2 183.5,225.3 184.0,225.5 184.5,225.7 185.0,225.9 185.5,226.2 186.0,226.5 186.5,226.8 187.0,227.2 187.5,227.5 188.0,227.9 188.5,228.2 189.0,228.6 189.5,228.9 190.0,229.3 190.5,229.7 191.0,230.1 191.5,230.5 192.0,230.9 192.5,231.3 193.0,231.7 193.5,232.0 194.0,232.4 194.5,232.8 195.0,233.2 195.5,233.6 196.0,233.9 196.5,234.3 197.0,234.7 197.5,235.0 198.0,235.4 198.5,235.8 199.0,236.1 199.5,236.5 200.0,236.8 200.5,237.1 201.0,237.5 201.5,237.7 202.0,238.0 202.5,238.3 203.0,238.6 203.5,238.8 204.0,239.1 204.5,239.3 205.0,239.5 205.5,239.8 206.0,240.0 206.5,240.2 207.0,240.5 207.5,240.7 208.0,240.9 208.5,241.0 209.0,241.2 209.5,241.4 210.0,241.5 210.5,241.6 211.0,241.7 211.5,241.7 212.0,241.7 212.5,241.8 213.0,241.8 213.5,241.8 214.0,241.8 214.5,241.7 215.0,241.7 215.5,241.7 216.0,241.7 216.5,241.7 217.0,241.7 217.5,241.7 218.0,241.7 218.5,241.7 219.0,241.7 219.5,241.6 220.0,241.6 220.5,241.6 221.0,241.5 221.5,241.5 222.0,241.4 222.5,241.3 223.0,241.3 223.5,241.2 224.0,241.1 224.5,241.1 225.0,241.0 225.5,240.9 226.0,240.8 226.5,240.8 227.0,240.7 227.5,240.6 228.0,240.5 228.5,240.4 229.0,240.3 229.5,240.3 230.0,240.2 230.5,240.1 231.0,240.0 231.5,240.0 232.0,239.9 232.5,239.8 233.0,239.8 233.5,239.7 234.0,239.6 234.5,239.6 235.0,239.5 235.5,239.4 236.0,239.4 236.5,239.3 237.0,239.2 237.5,239.2 238.0,239.1 238.5,239.1 239.0,239.0 239.5,238.9 240.0,238.9 240.5,238.8 241.0,238.8 241.5,238.7 242.0,238.6 242.5,238.6 243.0,238.5 243.5,238.5 244.0,238.4 244.5,238.4 245.0,238.3 245.5,238.2 246.0,238.2 246.5,238.1 247.0,238.1 247.5,238.0 248.0,238.0 248.5,237.9 249.0,237.8 249.5,237.8 250.0,237.7 250.5,237.6 251.0,237.6 251.5,237.5 252.0,237.5 252.5,237.4 253.0,237.3 253.5,237.3 254.0,237.2 254.5,237.1 255.0,237.1 255.5,237.0 256.0,236.9 256.5,236.8 257.0,236.7 257.5,236.6 258.0,236.5 258.5,236.4 259.0,236.3 259.5,236.2 260.0,236.1 260.5,236.0 261.0,235.9 261.5,235.8 262.0,235.7 262.5,235.6 263.0,235.5 263.5,235.4 264.0,235.3 264.5,235.1 265.0,235.0 265.5,234.9 266.0,234.8 266.5,234.7 267.0,234.6 267.5,234.5 268.0,234.4 268.5,234.3 269.0,234.2 269.5,234.1 270.0,234.0 270.5,233.9 271.0,233.8 271.5,233.7 272.0,233.6 272.5,233.4 273.0,233.3 273.5,233.1 274.0,233.0 274.5,232.8 275.0,232.6 275.5,232.4 276.0,232.1 276.5,231.9 277.0,231.6 277.5,231.3 278.0,230.9 278.5,230.5 279.0,230.1 279.5,229.6 280.0,229.0 280.5,228.5 281.0,227.9 281.5,227.2 282.0,226.6 282.5,225.9 283.0,225.3 283.5,224.6 284.0,223.9 284.5,223.1 285.0,222.4 285.5,221.6 286.0,220.9 286.5,220.1 287.0,219.3 287.5,218.5 288.0,217.6 288.5,216.8 289.0,216.0 289.5,215.3 290.0,214.5 290.5,213.8 291.0,213.0 291.5,212.4 292.0,211.7 292.5,211.0 293.0,210.3 293.5,209.7 294.0,209.0 294.5,208.4 295.0,207.7 295.5,207.0 296.0,206.4 296.5,205.7 297.0,205.0 297.5,204.4 298.0,203.7 298.5,203.0 299.0,202.3 299.5,201.7 300.0,201.0 300.5,200.3 301.0,199.6 301.5,198.9 302.0,198.2 302.5,197.5 303.0,196.8 303.5,196.1 304.0,195.4 304.5,194.7 305.0,194.0 305.5,193.3 306.0,192.6 306.5,191.8 307.0,191.0 307.5,190.2 308.0,189.3 308.5,188.3 309.0,187.2 309.5,186.0 310.0,184.7 310.5,183.3 311.0,181.8 311.5,180.4 312.0,178.9 312.5,177.5 313.0,176.1 313.5,174.8 314.0,173.5 314.5,172.2 315.0,170.9 315.5,169.7 316.0,168.5 316.5,167.4 317.0,166.3 317.5,165.2 318.0,164.1 318.5,163.1 319.0,162.0 319.5,160.8 320.0,159.6 320.5,158.4 321.0,157.0 321.5,155.7 322.0,154.3 322.5,153.1 323.0,152.0 323.5,150.9 324.0,150.0 324.5,149.1 325.0,148.2 325.5,147.4 326.0,146.6 326.5,145.7 327.0,144.8 327.5,144.0 328.0,143.1 328.5,142.3 329.0,141.6 329.5,140.8 330.0,140.0 330.5,139.2 331.0,138.4 331.5,137.6 332.0,136.6 332.5,135.6 333.0,134.6 333.5,133.5 334.0,132.4 334.5,131.3 335.0,130.2 335.5,129.2 336.0,128.1 336.5,127.2 337.0,126.2 337.5,125.4 338.0,124.5 338.5,123.6 339.0,122.7 339.5,121.6 340.0,120.5 340.5,119.2 341.0,117.8 341.5,116.3 342.0,114.6 342.5,112.9 343.0,111.2 343.5,109.5 344.0,107.7 344.5,106.0 345.0,104.2 345.5,102.4 346.0,100.6 346.5,98.8 347.0,97.2 347.5,95.8 348.0,94.5 348.5,93.5 349.0,92.5 349.5,91.6 350.0,90.5 350.5,89.5 351.0,88.4 351.5,87.3 352.0,86.4 352.5,85.5 353.0,84.7 353.5,84.1 354.0,83.7 354.5,83.4 355.0,83.2 355.5,83.2 356.0,83.3 356.5,83.5 357.0,83.9 357.5,84.4 358.0,85.1 358.5,85.9 359.0,87.0 359.5,88.4 360.0,90.2 360.5,92.6 361.0,95.4 361.5,98.5 362.0,101.9 362.5,105.3 363.0,108.8 363.5,112.2 364.0,115.8 364.5,119.4 365.0,123.2 365.5,127.2 366.0,131.5 366.5,136.1 367.0,141.0 367.5,146.0 368.0,151.1 368.5,156.2 369.0,161.1 369.5,166.0 370.0,170.9 370.5,175.7 371.0,180.5 371.5,185.2 372.0,189.8 372.5,194.3 373.0,198.6 373.5,202.7 374.0,206.6 374.5,210.3 375.0,213.8 375.5,217.1 376.0,220.1 376.5,222.9 377.0,225.5 377.5,228.0 378.0,230.4 378.5,232.7 379.0,235.1 379.5,237.3 380.0,239.4 380.5,241.4 381.0,243.3 381.5,244.9 382.0,246.5 382.5,247.9 383.0,249.2 383.5,250.3 384.0,251.3 384.5,252.1 385.0,252.8 385.5,253.5 386.0,254.1 386.5,254.7 387.0,255.2 387.5,255.8 388.0,256.3 388.5,256.7 389.0,257.2 389.5,257.6 390.0,258.0 390.5,258.4 391.0,258.7 391.5,259.1 392.0,259.4 392.5,259.7 393.0,260.0 393.5,260.3 394.0,260.5 394.5,260.8 395.0,261.0 395.5,261.2 396.0,261.4 396.5,261.5 397.0,261.7 397.5,261.8 398.0,261.9 398.5,262.0 399.0,262.1 399.5,262.2 400.0,262.3 400.5,262.4 401.0,262.5 401.5,262.6 402.0,262.7 402.5,262.7 403.0,262.8 403.5,262.9 404.0,262.9 404.5,263.0 405.0,263.0 405.5,263.0 406.0,263.1 406.5,263.1 407.0,263.1 407.5,263.1 408.0,263.1 408.5,263.2 409.0,263.2 409.5,263.2 410.0,263.2 410.5,263.2 411.0,263.2 411.5,263.2 412.0,263.2 412.5,263.2 413.0,263.2 413.5,263.2 414.0,263.2 414.5,263.2 415.0,263.2 415.5,263.2 416.0,263.2 416.5,263.2 417.0,263.2 417.5,263.2 418.0,263.2 418.5,263.2 419.0,263.2 419.5,263.2 420.0,263.2 420.5,263.2 421.0,263.2 421.5,263.2 422.0,263.2 422.5,263.2 423.0,263.2 423.5,263.2 424.0,263.2 424.5,263.2 425.0,263.2 425.5,263.2 426.0,263.2 426.5,263.2 427.0,263.2 427.5,263.2 428.0,263.2 428.5,263.2 429.0,263.2 429.5,263.2 430.0,263.2 430.5,263.2 431.0,263.2 431.5,263.2 432.0,263.2 432.5,263.2 433.0,263.2 433.5,263.2 434.0,263.2 434.5,263.2 435.0,263.2 435.5,263.2 436.0,263.2 436.5,263.2 437.0,263.2 437.5,263.2 438.0,263.2 438.5,263.2 439.0,263.2 439.5,263.2 440.0,263.2 440.5,263.2 441.0,263.2 441.5,263.2 442.0,263.2 442.5,263.2 443.0,263.2 443.5,263.2 444.0,263.2 444.5,263.2 445.0,263.2 445.5,263.2 446.0,263.2 446.5,263.2 447.0,263.2 447.5,263.2 448.0,263.2 448.5,263.2 449.0,263.2 449.5,263.2 450.0,263.2 450.5,263.2 451.0,263.2 451.5,263.2 452.0,263.2 452.5,263.2 453.0,263.2 453.5,263.2 454.0,263.2 454.5,263.2 455.0,263.2 455.5,263.2 456.0,263.2 456.5,263.2 457.0,263.2 457.5,263.2 458.0,263.2 458.5,263.2 459.0,263.2 459.5,263.2 460.0,263.2 460.5,263.2 461.0,263.2 461.5,263.2 462.0,263.2 462.5,263.2 463.0,263.2 463.5,263.2 464.0,263.2 464.5,263.2 465.0,263.2 465.5,263.2 466.0,263.2 466.5,263.2 467.0,263.2 467.5,263.2 468.0,263.2 468.5,263.2 469.0,263.2 469.5,263.2 470.0,263.2 470.5,263.2 471.0,263.2 471.5,263.2 472.0,263.2 472.5,263.2 473.0,263.2 473.5,263.2 474.0,263.2 474.5,263.2 475.0,263.2"/>
<polyline stroke="#ff1414" points="52.0,46.6 52.5,50.0 53.0,54.1 53.5,58.7 54.0,63.3 54.5,67.9 55.0,72.3 55.5,76.6 56.0,80.7 56.5,84.6 57.0,88.4 57.5,92.0 58.0,95.5 58.5,98.9 59.0,102.1 59.5,105.2 60.0,108.2 60.5,111.0 61.0,113.6 61.5,116.0 62.0,118.3 62.5,120.4 63.0,122.2 63.5,123.9 64.0,125.4 64.5,126.8 65.0,127.9 65.5,128.9 66.0,129.8 66.5,130.6 67.0,131.2 67.5,131.7 68.0,132.1 68.5,132.4 69.0,132.7 69.5,132.9 70.0,133.0 70.5,133.2 71.0,133.3 71.5,133.3 72.0,133.1 72.5,132.8 73.0,132.4 73.5,131.9 74.0,131.2 74.5,130.5 75.0,129.8 75.5,128.9 76.0,128.0 76.5,127.0 77.0,125.8 77.5,124.6 78.0,123.2 78.5,121.7 79.0,120.2 79.5,118.6 80.0,117.1 80.5,115.5 81.0,114.0 81.5,112.4 82.0,110.8 82.5,109.2 83.0,107.7 83.5,106.3 84.0,104.9 84.5,103.7 85.0,102.5 85.5,101.5 86.0,100.6 86.5,99.9 87.0,99.4 87.5,99.1 88.0,99.1 88.5,99.4 89.0,100.0 89.5,100.9 90.0,102.1 90.5,103.7 91.0,105.4 91.5,107.4 92.0,109.4 92.5,111.6 93.0,113.8 93.5,116.2 94.0,118.7 94.5,121.4 95.0,124.2 95.5,127.2 96.0,130.3 96.5,133.4 97.0,136.6 97.5,139.7 98.0,142.7 98.5,145.7 99.0,148.7 99.5,151.6 100.0,154.5 100.5,157.4 101.0,160.2 101.5,163.0 102.0,165.7 102.5,168.4 103.0,171.0 103.5,173.5 104.0,175.9 104.5,178.1 105.0,180.1 105.5,181.9 106.0,183.6 106.5,185.1 107.0,186.4 107.5,187.7 108.0,188.8 108.5,189.8 109.0,190.8 109.5,191.7 110.0,192.5 110.5,193.2 111.0,193.9 111.5,194.5 112.0,195.1 112.5,195.6 113.0,196.2 113.5,196.7 114.0,197.2 114.5,197.6 115.0,198.1 115.5,198.5 116.0,198.9 116.5,199.3 117.0,199.6 117.5,200.0 118.0,200.4 118.5,200.8 119.0,201.2 119.5,201.6 120.0,202.1 120.5,202.6 121.0,203.2 121.5,203.7 122.0,204.2 122.5,204.6 123.0,205.0 123.5,205.2 124.0,205.4 124.5,205.5 125.0,205.6 125.5,205.6 126.0,205.6 126.5,205.6 127.0,205.6 127.5,205.5 128.0,205.4 128.5,205.3 129.0,205.1 129.5,204.9 130.0,204.7 130.5,204.5 131.0,204.3 131.5,204.2 132.0,204.3 132.5,204.4 133.0,204.6 133.5,204.8 134.0,205.1 134.5,205.4 135.0,205.7 135.5,206.0 136.0,206.3 136.5,206.6 137.0,206.9 137.5,207.2 138.0,207.5 138.5,207.8 139.0,208.1 139.5,208.4 140.0,208.7 140.5,209.1 141.0,209.4 141.5,209.7 142.0,210.1 142.5,210.5 143.0,210.9 143.5,211.3 144.0,211.8 144.5,212.3 145.0,212.8 145.5,213.4 146.0,214.0 146.5,214.6 147.0,215.2 147.5,215.9 148.0,216.5 148.5,217.2 149.0,217.9 149.5,218.6 150.0,219.4 150.5,220.1 151.0,220.7 151.5,221.3 152.0,221.9 152.5,222.4 153.0,222.8 153.5,223.3 154.0,223.6 154.5,224.0 155.0,224.3 155.5,224.6 156.0,224.8 156.5,225.0 157.0,225.2 157.5,225.3 158.0,225.5 158.5,225.6 159.0,225.7 159.5,225.7 160.0,225.8 160.5,225.9 161.0,226.0 161.5,226.0 162.0,226.1 162.5,226.1 163.0,226.2 163.5,226.2 164.0,226.1 164.5,226.1 165.0,226.0 165.5,225.9 166.0,225.7 166.5,225.6 167.0,225.4 167.5,225.2 168.0,225.0 168.5,224.8 169.0,224.5 169.5,224.3 170.0,223.9 170.5,223.6 171.0,223.3 171.5,222.9 172.0,222.6 172.5,222.3 173.0,221.9 173.5,221.6 174.0,221.3 174.5,221.0 175.0,220.7 175.5,220.5 176.0,220.3 176.5,220.1 177.0,219.9 177.5,219.8 178.0,219.7 178.5,219.6 179.0,219.5 179.5,219.4 180.0,219.4 180.5,219.3 181.0,219.3 181.5,219.4 182.0,219.5 182.5,219.6 183.0,219.7 183.5,219.9 184.0,220.1 184.5,220.4 185.0,220.7 185.5,221.0 186.0,221.3 186.5,221.7 187.0,222.0 187.5,222.4 188.0,222.8 188.5,223.2 189.0,223.6 189.5,224.0 190.0,224.4 190.5,224.8 191.0,225.2 191.5,225.7 192.0,226.1 192.5,226.5 193.0,227.0 193.5,227.4 194.0,227.9 194.5,228.3 195.0,228.7 195.5,229.1 196.0,229.6 196.5,230.0 197.0,230.4 197.5,230.8 198.0,231.3 198.5,231.7 199.0,232.1 199.5,232.5 200.0,232.9 200.5,233.2 201.0,233.6 201.5,233.9 202.0,234.3 202.5,234.6 203.0,234.9 203.5,235.2 204.0,235.5 204.5,235.8 205.0,236.1 205.5,236.4 206.0,236.6 206.5,236.9 207.0,237.2 207.5,237.4 208.0,237.6 208.5,237.9 209.0,238.1 209.5,238.2 210.0,238.4 210.5,238.6 211.0,238.7 211.5,238.8 212.0,238.8 212.5,238.9 213.0,239.0 213.5,239.0 214.0,239.0 214.5,239.0 215.0,239.0 215.5,239.1 216.0,239.1 216.5,239.1 217.0,239.1 217.5,239.1 218.0,239.1 218.5,239.1 219.0,239.1 219.5,239.1 220.0,239.1 220.5,239.0 221.0,239.0 221.5,238.9 222.0,238.9 222.5,238.8 223.0,238.8 223.5,238.7 224.0,238.6 224.5,238.6 225.0,238.5 225.5,238.4 226.0,238.3 226.5,238.3 227.0,238.2 227.5,238.1 228.0,238.0 228.5,237.9 229.0,237.9 229.5,237.8 230.0,237.7 230.5,237.6 231.0,237.6 231.5,237.5 232.0,237.4 232.5,237.3 233.0,237.3 233.5,237.2 234.0,237.1 234.5,237.1 235.0,237.0 235.5,236.9 236.0,236.9 236.5,236.8 237.0,236.7 237.5,236.7 238.0,236.6 238.5,236.5 239.0,236.5 239.5,236.4 240.0,236.4 240.5,236.3 241.0,236.2 241.5,236.2 242.0,236.1 242.5,236.0 243.0,236.0 243.5,235.9 244.0,235.9 244.5,235.8 245.0,235.7 245.5,235.7 246.0,235.6 246.5,235.5 247.0,235.5 247.5,235.4 248.0,235.3 248.5,235.3 249.0,235.2 249.5,235.1 250.0,235.1 250.5,235.0 251.0,234.9 251.5,234.9 252.0,234.8 252.5,234.7 253.0,234.7 253.5,234.6 254.0,234.5 254.5,234.5 255.0,234.4 255.5,234.3 256.0,234.3 256.5,234.2 257.0,234.1 257.5,234.0 258.0,234.0 258.5,233.9 259.0,233.8 259.5,233.7 260.0,233.6 260.5,233.5 261.0,233.5 261.5,233.4 262.0,233.3 262.5,233.2 263.0,233.1 263.5,233.0 264.0,233.0 264.5,232.9 265.0,232.8 265.5,232.7 266.0,232.6 266.5,232.6 267.0,232.5 267.5,232.4 268.0,232.3 268.5,232.3 269.0,232.2 269.5,232.1 270.0,232.0 270.5,231.9 271.0,231.8 271.5,231.7 272.0,231.6 272.5,231.5 273.0,231.4 273.5,231.3 274.0,231.1 274.5,231.0 275.0,230.8 275.5,230.6 276.0,230.4 276.5,230.2 277.0,229.9 277.5,229.6 278.0,229.3 278.5,228.9 279.0,228.5 279.5,228.1 280.0,227.6 280.5,227.0 281.0,226.5 281.5,225.9 282.0,225.3 282.5,224.6 283.0,224.0 283.5,223.3 284.0,222.7 284.5,222.0 285.0,221.3 285.5,220.5 286.0,219.8 286.5,219.0 287.0,218.3 287.5,217.5 288.0,216.7 288.5,215.9 289.0,215.1 289.5,214.4 290.0,213.6 290.5,212.9 291.0,212.2 291.5,211.6 292.0,210.9 292.5,210.3 293.0,209.6 293.5,209.0 294.0,208.3 294.5,207.7 295.0,207.1 295.5,206.4 296.0,205.8 296.5,205.1 297.0,204.5 297.5,203.8 298.0,203.2 298.5,202.5 299.0,201.9 299.5,201.2 300.0,200.5 300.5,199.9 301.0,199.2 301.5,198.5 302.0,197.8 302.5,197.1 303.0,196.4 303.5,195.7 304.0,195.0 304.5,194.3 305.0,193.6 305.5,192.9 306.0,192.2 306.5,191.4 307.0,190.6 307.5,189.8 308.0,188.9 308.5,187.9 309.0,186.8 309.5,185.6 310.0,184.3 310.5,182.9 311.0,181.4 311.5,180.0 312.0,178.5 312.5,177.1 313.0,175.7 313.5,174.4 314.0,173.1 314.5,171.8 315.0,170.6 315.5,169.4 316.0,168.2 316.5,167.1 317.0,165.9 317.5,164.9 318.0,163.8 318.5,162.7 319.0,161.6 319.5,160.5 320.0,159.3 320.5,158.1 321.0,156.8 321.5,155.5 322.0,154.2 322.5,153.0 323.0,151.8 323.5,150.8 324.0,149.9 324.5,149.1 325.0,148.2 325.5,147.5 326.0,146.7 326.5,146.0 327.0,145.3 327.5,144.6 328.0,143.9 328.5,143.3 329.0,142.6 329.5,141.9 330.0,141.2 330.5,140.5 331.0,139.6 331.5,138.7 332.0,137.7 332.5,136.6 333.0,135.4 333.5,134.1 334.0,132.7 334.5,131.2 335.0,129.7 335.5,128.1 336.0,126.5 336.5,124.8 337.0,123.2 337.5,121.6 338.0,119.9 338.5,118.3 339.0,116.7 339.5,115.0 340.0,113.3 340.5,111.5 341.0,109.6 341.5,107.7 342.0,105.6 342.5,103.5 343.0,101.4 343.5,99.1 344.0,96.9 344.5,94.7 345.0,92.5 345.5,90.3 346.0,88.0 346.5,85.8 347.0,83.5 347.5,81.1 348.0,78.5 348.5,75.9 349.0,73.4 349.5,70.9 350.0,68.7 350.5,66.6 351.0,64.8 351.5,63.0 352.0,61.4 352.5,59.9 353.0,58.5 353.5,57.1 354.0,55.9 354.5,54.8 355.0,53.8 355.5,53.0 356.0,52.4 356.5,52.0 357.0,51.8 357.5,52.0 358.0,52.4 358.5,53.1 359.0,54.1 359.5,55.3 360.0,56.9 360.5,58.7 361.0,60.9 361.5,63.4 362.0,66.3 362.5,69.5 363.0,73.1 363.5,77.1 364.0,81.3 364.5,85.8 365.0,90.5 365.5,95.4 366.0,100.4 366.5,105.4 367.0,110.4 367.5,115.4 368.0,120.4 368.5,125.4 369.0,130.5 369.5,135.7 370.0,140.9 370.5,146.4 371.0,151.9 371.5,157.6 372.0,163.3 372.5,169.1 373.0,174.9 373.5,180.6 374.0,186.3 374.5,191.9 375.0,197.1 375.5,201.9 376.0,206.4 376.5,210.5 377.0,214.2 377.5,217.7 378.0,220.9 378.5,223.8 379.0,226.6 379.5,229.3 380.0,231.7 380.5,234.1 381.0,236.3 381.5,238.4 382.0,240.4 382.5,242.2 383.0,243.9 383.5,245.5 384.0,246.9 384.5,248.2 385.0,249.3 385.5,250.4 386.0,251.3 386.5,252.1 387.0,252.9 387.5,253.6 388.0,254.3 388.5,254.9 389.0,255.5 389.5,256.0 390.0,256.5 390.5,256.9 391.0,257.4 391.5,257.8 392.0,258.2 392.5,258.6 393.0,258.9 393.5,259.2 394.0,259.6 394.5,259.9 395.0,260.1 395.5,260.4 396.0,260.6 396.5,260.9 397.0,261.1 397.5,261.2 398.0,261.4 398.5,261.5 399.0,261.7 399.5,261.8 400.0,261.9 400.5,262.0 401.0,262.2 401.5,262.3 402.0,262.4 402.5,262.5 403.0,262.5 403.5,262.6 404.0,262.7 404.5,262.8 405.0,262.8 405.5,262.9 406.0,262.9 406.5,263.0 407.0,263.0 407.5,263.0 408.0,263.1 408.5,263.1 409.0,263.1 409.5,263.1 410.0,263.1 410.5,263.1 411.0,263.2 411.5,263.2 412.0,263.2 412.5,263.2 413.0,263.2 413.5,263.2 414.0,263.2 414.5,263.2 415.0,263.2 415.5,263.2 416.0,263.2 416.5,263.2 417.0,263.2 417.5,263.2 418.0,263.2 418.5,263.2 419.0,263.2 419.5,263.2 420.0,263.2 420.5,263.2 421.0,263.2 421.5,263.2 422.0,263.2 422.5,263.2 423.0,263.2 423.5,263.2 424.0,263.2 424.5,263.2 425.0,263.2 425.5,263.2 426.0,263.2 426.5,263.2 427.0,263.2 427.5,263.2 428.0,263.2 428.5,263.2 429.0,263.2 429.5,263.2 430.0,263.2 430.5,263.2 431.0,263.2 431.5,263.2 432.0,263.2 432.5,263.2 433.0,263.2 433.5,263.2 434.0,263.2 434.5,263.2 435.0,263.2 435.5,263.2 436.0,263.2 436.5,263.2 437.0,263.2 437.5,263.2 438.0,263.2 438.5,263.2 439.0,263.2 439.5,263.2 440.0,263.2 440.5,263.2 441.0,263.2 441.5,263.2 442.0,263.2 442.5,263.2 443.0,263.2 443.5,263.2 444.0,263.2 444.5,263.2 445.0,263.2 445.5,263.2 446.0,263.2 446.5,263.2 447.0,263.2 447.5,263.2 448.0,263.2 448.5,263.2 449.0,263.2 449.5,263.2 450.0,263.2 450.5,263.2 451.0,263.2 451.5,263.2 452.0,263.2 452.5,263.2 453.0,263.2 453.5,263.2 454.0,263.2 454.5,263.2 455.0,263.2 455.5,263.2 456.0,263.2 456.5,263.2 457.0,263.2 457.5,263.2 458.0,263.2 458.5,263.2 459.0,263.2 459.5,263.2 460.0,263.2 460.5,263.2 461.0,263.2 461.5,263.2 462.0,263.2 462.5,263.2 463.0,263.2 463.5,263.2 464.0,263.2 464.5,263.2 465.0,263.2 465.5,263.2 466.0,263.2 466.5,263.2 467.0,263.2 467.5,263.2 468.0,263.2 468.5,263.2 469.0,263.2 469.5,263.2 470.0,263.2 470.5,263.2 471.0,263.2 471.5,263.2 472.0,263.2 472.5,263.2 473.0,263.2 473.5,263.2 474.0,263.2 474.5,263.2 475.0,263.2"/>
<polyline stroke="#1fbcff" points="52.0,41.7 52.5,45.0 53.0,49.2 53.5,53.8 54.0,58.4 54.5,63.0 55.0,67.5 55.5,71.8 56.0,76.0 56.5,80.0 57.0,83.8 57.5,87.5 58.0,91.1 58.5,94.6 59.0,98.0 59.5,101.3 60.0,104.4 60.5,107.3 61.0,110.1 61.5,112.6 62.0,115.0 62.5,117.1 63.0,119.1 63.5,120.9 64.0,122.4 64.5,123.8 65.0,125.0 65.5,126.0 66.0,126.8 66.5,127.6 67.0,128.2 67.5,128.7 68.0,129.1 68.5,129.4 69.0,129.6 69.5,129.8 70.0,129.9 70.5,129.9 71.0,129.9 71.5,129.8 72.0,129.5 72.5,129.1 73.0,128.6 73.5,127.9 74.0,127.1 74.5,126.3 75.0,125.4 75.5,124.4 76.0,123.4 76.5,122.3 77.0,121.1 77.5,119.7 78.0,118.3 78.5,116.7 79.0,115.2 79.5,113.6 80.0,112.1 80.5,110.5 81.0,108.9 81.5,107.3 82.0,105.7 82.5,104.1 83.0,102.6 83.5,101.2 84.0,99.8 84.5,98.6 85.0,97.5 85.5,96.5 86.0,95.6 86.5,95.0 87.0,94.6 87.5,94.4 88.0,94.5 88.5,94.9 89.0,95.6 89.5,96.7 90.0,98.1 90.5,99.7 91.0,101.6 91.5,103.7 92.0,105.9 92.5,108.1 93.0,110.5 93.5,113.0 94.0,115.6 94.5,118.4 95.0,121.3 95.5,124.3 96.0,127.4 96.5,130.6 97.0,133.8 97.5,137.0 98.0,140.1 98.5,143.2 99.0,146.2 99.5,149.3 100.0,152.3 100.5,155.3 101.0,158.3 101.5,161.2 102.0,164.0 102.5,166.8 103.0,169.6 103.5,172.1 104.0,174.6 104.5,176.8 105.0,178.9 105.5,180.7 106.0,182.4 106.5,183.8 107.0,185.2 107.5,186.4 108.0,187.6 108.5,188.6 109.0,189.5 109.5,190.4 110.0,191.2 110.5,191.9 111.0,192.5 111.5,193.1 112.0,193.7 112.5,194.2 113.0,194.7 113.5,195.2 114.0,195.7 114.5,196.1 115.0,196.5 115.5,196.9 116.0,197.3 116.5,197.6 117.0,198.0 117.5,198.3 118.0,198.7 118.5,199.0 119.0,199.4 119.5,199.8 120.0,200.2 120.5,200.6 121.0,201.1 121.5,201.6 122.0,202.0 122.5,202.4 123.0,202.7 123.5,202.9 124.0,203.0 124.5,203.1 125.0,203.1 125.5,203.1 126.0,203.1 126.5,203.1 127.0,203.1 127.5,203.0 128.0,202.8 128.5,202.7 129.0,202.4 129.5,202.2 130.0,201.9 130.5,201.7 131.0,201.5 131.5,201.4 132.0,201.4 132.5,201.5 133.0,201.7 133.5,202.0 134.0,202.3 134.5,202.6 135.0,202.9 135.5,203.2 136.0,203.6 136.5,203.9 137.0,204.2 137.5,204.5 138.0,204.8 138.5,205.0 139.0,205.3 139.5,205.7 140.0,206.0 140.5,206.3 141.0,206.6 141.5,206.9 142.0,207.3 142.5,207.6 143.0,208.0 143.5,208.4 144.0,208.8 144.5,209.2 145.0,209.7 145.5,210.2 146.0,210.8 146.5,211.3 147.0,211.9 147.5,212.4 148.0,213.0 148.5,213.6 149.0,214.3 149.5,214.9 150.0,215.5 150.5,216.2 151.0,216.7 151.5,217.3 152.0,217.8 152.5,218.2 153.0,218.6 153.5,219.0 154.0,219.3 154.5,219.6 155.0,219.9 155.5,220.1 156.0,220.3 156.5,220.5 157.0,220.6 157.5,220.7 158.0,220.8 158.5,220.9 159.0,221.0 159.5,221.1 160.0,221.1 160.5,221.1 161.0,221.1 161.5,221.2 162.0,221.2 162.5,221.1 163.0,221.1 163.5,221.0 164.0,220.9 164.5,220.8 165.0,220.7 165.5,220.5 166.0,220.3 166.5,220.1 167.0,219.9 167.5,219.6 168.0,219.4 168.5,219.1 169.0,218.8 169.5,218.5 170.0,218.2 170.5,217.8 171.0,217.4 171.5,217.0 172.0,216.7 172.5,216.3 173.0,216.0 173.5,215.6 174.0,215.2 174.5,214.9 175.0,214.6 175.5,214.3 176.0,214.1 176.5,213.9 177.0,213.7 177.5,213.5 178.0,213.4 178.5,213.3 179.0,213.2 179.5,213.1 180.0,213.1 180.5,213.1 181.0,213.1 181.5,213.1 182.0,213.2 182.5,213.3 183.0,213.5 183.5,213.7 184.0,213.9 184.5,214.2 185.0,214.4 185.5,214.8 186.0,215.1 186.5,215.5 187.0,215.9 187.5,216.2 188.0,216.6 188.5,217.0 189.0,217.4 189.5,217.8 190.0,218.3 190.5,218.7 191.0,219.1 191.5,219.6 192.0,220.1 192.5,220.5 193.0,221.0 193.5,221.5 194.0,221.9 194.5,222.4 195.0,222.9 195.5,223.3 196.0,223.8 196.5,224.2 197.0,224.7 197.5,225.2 198.0,225.6 198.5,226.1 199.0,226.5 199.5,226.9 200.0,227.4 200.5,227.8 201.0,228.2 201.5,228.6 202.0,228.9 202.5,229.3 203.0,229.6 203.5,230.0 204.0,230.3 204.5,230.6 205.0,231.0 205.5,231.3 206.0,231.6 206.5,231.9 207.0,232.2 207.5,232.4 208.0,232.7 208.5,233.0 209.0,233.2 209.5,233.4 210.0,233.6 210.5,233.8 211.0,233.9 211.5,234.0 212.0,234.2 212.5,234.3 213.0,234.3 213.5,234.4 214.0,234.5 214.5,234.5 215.0,234.5 215.5,234.6 216.0,234.6 216.5,234.7 217.0,234.7 217.5,234.8 218.0,234.8 218.5,234.8 219.0,234.8 219.5,234.8 220.0,234.8 220.5,234.7 221.0,234.7 221.5,234.7 222.0,234.6 222.5,234.6 223.0,234.5 223.5,234.5 224.0,234.4 224.5,234.3 225.0,234.3 225.5,234.2 226.0,234.1 226.5,234.1 227.0,234.0 227.5,233.9 228.0,233.8 228.5,233.8 229.0,233.7 229.5,233.6 230.0,233.5 230.5,233.4 231.0,233.3 231.5,233.3 232.0,233.2 232.5,233.1 233.0,233.0 233.5,233.0 234.0,232.9 234.5,232.8 235.0,232.7 235.5,232.7 236.0,232.6 236.5,232.5 237.0,232.4 237.5,232.4 238.0,232.3 238.5,232.2 239.0,232.2 239.5,232.1 240.0,232.0 240.5,231.9 241.0,231.9 241.5,231.8 242.0,231.7 242.5,231.7 243.0,231.6 243.5,231.5 244.0,231.5 244.5,231.4 245.0,231.3 245.5,231.2 246.0,231.2 246.5,231.1 247.0,231.0 247.5,230.9 248.0,230.9 248.5,230.8 249.0,230.7 249.5,230.6 250.0,230.5 250.5,230.5 251.0,230.4 251.5,230.3 252.0,230.2 252.5,230.1 253.0,230.1 253.5,230.0 254.0,229.9 254.5,229.9 255.0,229.8 255.5,229.7 256.0,229.6 256.5,229.6 257.0,229.5 257.5,229.4 258.0,229.4 258.5,229.3 259.0,229.2 259.5,229.2 260.0,229.1 260.5,229.0 261.0,228.9 261.5,228.9 262.0,228.8 262.5,228.7 263.0,228.7 263.5,228.6 264.0,228.5 264.5,228.4 265.0,228.4 265.5,228.3 266.0,228.2 266.5,228.2 267.0,228.1 267.5,228.0 268.0,228.0 268.5,227.9 269.0,227.9 269.5,227.8 270.0,227.7 270.5,227.6 271.0,227.6 271.5,227.5 272.0,227.4 272.5,227.3 273.0,227.2 273.5,227.0 274.0,226.8 274.5,226.6 275.0,226.4 275.5,226.2 276.0,225.9 276.5,225.7 277.0,225.4 277.5,225.1 278.0,224.8 278.5,224.4 279.0,224.0 279.5,223.5 280.0,223.0 280.5,222.5 281.0,221.9 281.5,221.4 282.0,220.8 282.5,220.2 283.0,219.6 283.5,218.9 284.0,218.3 284.5,217.6 285.0,216.9 285.5,216.2 286.0,215.5 286.5,214.7 287.0,214.0 287.5,213.2 288.0,212.4 288.5,211.6 289.0,210.9 289.5,210.1 290.0,209.4 290.5,208.7 291.0,208.0 291.5,207.4 292.0,206.8 292.5,206.1 293.0,205.5 293.5,204.9 294.0,204.3 294.5,203.7 295.0,203.1 295.5,202.5 296.0,201.9 296.5,201.3 297.0,200.7 297.5,200.1 298.0,199.4 298.5,198.8 299.0,198.2 299.5,197.6 300.0,196.9 300.5,196.3 301.0,195.6 301.5,195.0 302.0,194.3 302.5,193.7 303.0,193.0 303.5,192.3 304.0,191.7 304.5,191.0 305.0,190.3 305.5,189.6 306.0,188.9 306.5,188.1 307.0,187.4 307.5,186.5 308.0,185.6 308.5,184.7 309.0,183.6 309.5,182.3 310.0,181.0 310.5,179.5 311.0,178.0 311.5,176.4 312.0,175.0 312.5,173.6 313.0,172.2 313.5,171.0 314.0,169.7 314.5,168.5 315.0,167.4 315.5,166.2 316.0,165.1 316.5,164.0 317.0,162.9 317.5,161.8 318.0,160.8 318.5,159.7 319.0,158.7 319.5,157.6 320.0,156.5 320.5,155.4 321.0,154.2 321.5,153.1 322.0,152.0 322.5,150.9 323.0,150.0 323.5,149.1 324.0,148.2 324.5,147.5 325.0,146.7 325.5,146.0 326.0,145.3 326.5,144.6 327.0,144.0 327.5,143.4 328.0,142.8 328.5,142.2 329.0,141.6 329.5,141.0 330.0,140.3 330.5,139.6 331.0,138.8 331.5,138.0 332.0,137.0 332.5,136.0 333.0,134.8 333.5,133.5 334.0,132.2 334.5,130.7 335.0,129.2 335.5,127.6 336.0,126.0 336.5,124.3 337.0,122.6 337.5,121.0 338.0,119.3 338.5,117.6 339.0,115.9 339.5,114.2 340.0,112.5 340.5,110.7 341.0,108.8 341.5,106.8 342.0,104.7 342.5,102.6 343.0,100.4 343.5,98.1 344.0,95.9 344.5,93.6 345.0,91.3 345.5,89.1 346.0,86.8 346.5,84.5 347.0,82.2 347.5,79.7 348.0,77.0 348.5,74.2 349.0,71.5 349.5,68.9 350.0,66.6 350.5,64.5 351.0,62.5 351.5,60.7 352.0,59.0 352.5,57.4 353.0,55.9 353.5,54.5 354.0,53.2 354.5,52.0 355.0,51.0 355.5,50.1 356.0,49.4 356.5,49.0 357.0,48.8 357.5,48.9 358.0,49.2 358.5,49.9 359.0,50.9 359.5,52.1 360.0,53.7 360.5,55.5 361.0,57.6 361.5,60.0 362.0,62.8 362.5,66.1 363.0,69.7 363.5,73.7 364.0,78.0 364.5,82.6 365.0,87.4 365.5,92.3 366.0,97.4 366.5,102.4 367.0,107.4 367.5,112.4 368.0,117.4 368.5,122.5 369.0,127.5 369.5,132.7 370.0,138.1 370.5,143.6 371.0,149.2 371.5,154.9 372.0,160.8 372.5,166.7 373.0,172.6 373.5,178.5 374.0,184.4 374.5,190.1 375.0,195.5 375.5,200.5 376.0,205.1 376.5,209.3 377.0,213.1 377.5,216.7 378.0,219.9 378.5,223.0 379.0,225.8 379.5,228.5 380.0,231.0 380.5,233.4 381.0,235.7 381.5,237.8 382.0,239.8 382.5,241.7 383.0,243.4 383.5,245.0 384.0,246.5 384.5,247.8 385.0,249.0 385.5,250.1 386.0,251.0 386.5,251.9 387.0,252.7 387.5,253.4 388.0,254.1 388.5,254.7 389.0,255.3 389.5,255.8 390.0,256.3 390.5,256.8 391.0,257.3 391.5,257.7 392.0,258.1 392.5,258.4 393.0,258.8 393.5,259.1 394.0,259.5 394.5,259.8 395.0,260.1 395.5,260.3 396.0,260.6 396.5,260.8 397.0,261.0 397.5,261.2 398.0,261.4 398.5,261.5 399.0,261.6 399.5,261.8 400.0,261.9 400.5,262.0 401.0,262.1 401.5,262.2 402.0,262.3 402.5,262.4 403.0,262.5 403.5,262.6 404.0,262.7 404.5,262.7 405.0,262.8 405.5,262.9 406.0,262.9 406.5,262.9 407.0,263.0 407.5,263.0 408.0,263.1 408.5,263.1 409.0,263.1 409.5,263.1 410.0,263.1 410.5,263.1 411.0,263.2 411.5,263.2 412.0,263.2 412.5,263.2 413.0,263.2 413.5,263.2 414.0,263.2 414.5,263.2 415.0,263.2 415.5,263.2 416.0,263.2 416.5,263.2 417.0,263.2 417.5,263.2 418.0,263.2 418.5,263.2 419.0,263.2 419.5,263.2 420.0,263.2 420.5,263.2 421.0,263.2 421.5,263.2 422.0,263.2 422.5,263.2 423.0,263.2 423.5,263.2 424.0,263.2 424.5,263.2 425.0,263.2 425.5,263.2 426.0,263.2 426.5,263.2 427.0,263.2 427.5,263.2 428.0,263.2 428.5,263.2 429.0,263.2 429.5,263.2 430.0,263.2 430.5,263.2 431.0,263.2 431.5,263.2 432.0,263.2 432.5,263.2 433.0,263.2 433.5,263.2 434.0,263.2 434.5,263.2 435.0,263.2 435.5,263.2 436.0,263.2 436.5,263.2 437.0,263.2 437.5,263.2 438.0,263.2 438.5,263.2 439.0,263.2 439.5,263.2 440.0,263.2 440.5,263.2 441.0,263.2 441.5,263.2 442.0,263.2 442.5,263.2 443.0,263.2 443.5,263.2 444.0,263.2 444.5,263.2 445.0,263.2 445.5,263.2 446.0,263.2 446.5,263.2 447.0,263.2 447.5,263.2 448.0,263.2 448.5,263.2 449.0,263.2 449.5,263.2 450.0,263.2 450.5,263.2 451.0,263.2 451.5,263.2 452.0,263.2 452.5,263.2 453.0,263.2 453.5,263.2 454.0,263.2 454.5,263.2 455.0,263.2 455.5,263.2 456.0,263.2 456.5,263.2 457.0,263.2 457.5,263.2 458.0,263.2 458.5,263.2 459.0,263.2 459.5,263.2 460.0,263.2 460.5,263.2 461.0,263.2 461.5,263.2 462.0,263.2 462.5,263.2 463.0,263.2 463.5,263.2 464.0,263.2 464.5,263.2 465.0,263.2 465.5,263.2 466.0,263.2 466.5,263.2 467.0,263.2 467.5,263.2 468.0,263.2 468.5,263.2 469.0,263.2 469.5,263.2 470.0,263.2 470.5,263.2 471.0,263.2 471.5,263.2 472.0,263.2 472.5,263.2 473.0,263.2 473.5,263.2 474.0,263.2 474.5,263.2 475.0,263.2"/>
<polyline stroke="#1a1a1a" points="52.0,35.8 52.5,39.2 53.0,43.3 53.5,47.8 54.0,52.5 54.5,57.1 55.0,61.6 55.5,65.9 56.0,70.1 56.5,74.2 57.0,78.1 57.5,81.9 58.0,85.6 58.5,89.3 59.0,92.8 59.5,96.2 60.0,99.5 60.5,102.6 61.0,105.5 61.5,108.2 62.0,110.6 62.5,112.9 63.0,114.9 63.5,116.7 64.0,118.3 64.5,119.7 65.0,120.9 65.5,121.9 66.0,122.7 66.5,123.4 67.0,124.0 67.5,124.5 68.0,124.8 68.5,125.1 69.0,125.2 69.5,125.3 70.0,125.3 70.5,125.3 71.0,125.2 71.5,125.0 72.0,124.6 72.5,124.1 73.0,123.4 73.5,122.6 74.0,121.7 74.5,120.8 75.0,119.8 75.5,118.8 76.0,117.7 76.5,116.5 77.0,115.2 77.5,113.8 78.0,112.4 78.5,110.9 79.0,109.4 79.5,107.8 80.0,106.3 80.5,104.7 81.0,103.2 81.5,101.6 82.0,100.1 82.5,98.5 83.0,97.1 83.5,95.7 84.0,94.4 84.5,93.3 85.0,92.2 85.5,91.3 86.0,90.6 86.5,90.0 87.0,89.7 87.5,89.6 88.0,89.9 88.5,90.4 89.0,91.3 89.5,92.5 90.0,94.0 90.5,95.8 91.0,97.9 91.5,100.1 92.0,102.4 92.5,104.8 93.0,107.3 93.5,109.8 94.0,112.6 94.5,115.4 95.0,118.4 95.5,121.5 96.0,124.6 96.5,127.9 97.0,131.1 97.5,134.4 98.0,137.6 98.5,140.8 99.0,143.9 99.5,147.1 100.0,150.2 100.5,153.3 101.0,156.4 101.5,159.4 102.0,162.4 102.5,165.4 103.0,168.2 103.5,170.9 104.0,173.4 104.5,175.7 105.0,177.7 105.5,179.6 106.0,181.2 106.5,182.7 107.0,184.1 107.5,185.3 108.0,186.4 108.5,187.4 109.0,188.4 109.5,189.2 110.0,190.0 110.5,190.7 111.0,191.3 111.5,191.9 112.0,192.4 112.5,192.9 113.0,193.4 113.5,193.9 114.0,194.3 114.5,194.7 115.0,195.1 115.5,195.5 116.0,195.9 116.5,196.2 117.0,196.5 117.5,196.8 118.0,197.1 118.5,197.5 119.0,197.8 119.5,198.1 120.0,198.5 120.5,198.9 121.0,199.3 121.5,199.7 122.0,200.1 122.5,200.4 123.0,200.7 123.5,200.8 124.0,201.0 124.5,201.0 125.0,201.0 125.5,201.0 126.0,201.0 126.5,201.0 127.0,200.9 127.5,200.8 128.0,200.6 128.5,200.4 129.0,200.2 129.5,199.9 130.0,199.6 130.5,199.3 131.0,199.1 131.5,199.0 132.0,199.0 132.5,199.1 133.0,199.3 133.5,199.6 134.0,199.9 134.5,200.2 135.0,200.5 135.5,200.8 136.0,201.1 136.5,201.4 137.0,201.7 137.5,202.0 138.0,202.3 138.5,202.6 139.0,202.9 139.5,203.1 140.0,203.4 140.5,203.7 141.0,204.0 141.5,204.3 142.0,204.6 142.5,204.9 143.0,205.2 143.5,205.6 144.0,205.9 144.5,206.3 145.0,206.7 145.5,207.2 146.0,207.6 146.5,208.1 147.0,208.6 147.5,209.0 148.0,209.5 148.5,210.0 149.0,210.6 149.5,211.1 150.0,211.6 150.5,212.1 151.0,212.6 151.5,213.0 152.0,213.4 152.5,213.8 153.0,214.1 153.5,214.4 154.0,214.6 154.5,214.8 155.0,215.0 155.5,215.2 156.0,215.3 156.5,215.4 157.0,215.5 157.5,215.6 158.0,215.6 158.5,215.7 159.0,215.7 159.5,215.7 160.0,215.7 160.5,215.6 161.0,215.6 161.5,215.6 162.0,215.5 162.5,215.5 163.0,215.4 163.5,215.3 164.0,215.2 164.5,215.0 165.0,214.8 165.5,214.6 166.0,214.4 166.5,214.2 167.0,213.9 167.5,213.7 168.0,213.4 168.5,213.1 169.0,212.8 169.5,212.5 170.0,212.1 170.5,211.8 171.0,211.4 171.5,211.0 172.0,210.7 172.5,210.3 173.0,209.9 173.5,209.6 174.0,209.2 174.5,208.9 175.0,208.6 175.5,208.3 176.0,208.1 176.5,207.8 177.0,207.7 177.5,207.5 178.0,207.4 178.5,207.3 179.0,207.3 179.5,207.2 180.0,207.2 180.5,207.2 181.0,207.2 181.5,207.3 182.0,207.4 182.5,207.5 183.0,207.7 183.5,207.9 184.0,208.1 184.5,208.4 185.0,208.7 185.5,209.0 186.0,209.4 186.5,209.8 187.0,210.2 187.5,210.6 188.0,211.0 188.5,211.4 189.0,211.8 189.5,212.3 190.0,212.7 190.5,213.2 191.0,213.6 191.5,214.1 192.0,214.6 192.5,215.1 193.0,215.6 193.5,216.1 194.0,216.6 194.5,217.1 195.0,217.6 195.5,218.1 196.0,218.6 196.5,219.1 197.0,219.6 197.5,220.1 198.0,220.6 198.5,221.1 199.0,221.6 199.5,222.1 200.0,222.5 200.5,223.0 201.0,223.4 201.5,223.9 202.0,224.3 202.5,224.7 203.0,225.1 203.5,225.4 204.0,225.8 204.5,226.2 205.0,226.5 205.5,226.9 206.0,227.2 206.5,227.6 207.0,227.9 207.5,228.2 208.0,228.5 208.5,228.8 209.0,229.0 209.5,229.3 210.0,229.5 210.5,229.7 211.0,229.9 211.5,230.0 212.0,230.2 212.5,230.3 213.0,230.4 213.5,230.5 214.0,230.6 214.5,230.7 215.0,230.8 215.5,230.9 216.0,230.9 216.5,231.0 217.0,231.1 217.5,231.2 218.0,231.2 218.5,231.3 219.0,231.3 219.5,231.3 220.0,231.3 220.5,231.3 221.0,231.2 221.5,231.2 222.0,231.2 222.5,231.1 223.0,231.1 223.5,231.0 224.0,231.0 224.5,230.9 225.0,230.9 225.5,230.8 226.0,230.8 226.5,230.7 227.0,230.6 227.5,230.6 228.0,230.5 228.5,230.4 229.0,230.4 229.5,230.3 230.0,230.2 230.5,230.1 231.0,230.0 231.5,230.0 232.0,229.9 232.5,229.8 233.0,229.7 233.5,229.7 234.0,229.6 234.5,229.5 235.0,229.4 235.5,229.4 236.0,229.3 236.5,229.2 237.0,229.2 237.5,229.1 238.0,229.0 238.5,229.0 239.0,228.9 239.5,228.8 240.0,228.7 240.5,228.7 241.0,228.6 241.5,228.5 242.0,228.5 242.5,228.4 243.0,228.3 243.5,228.3 244.0,228.2 244.5,228.1 245.0,228.0 245.5,228.0 246.0,227.9 246.5,227.8 247.0,227.7 247.5,227.7 248.0,227.6 248.5,227.5 249.0,227.4 249.5,227.3 250.0,227.3 250.5,227.2 251.0,227.1 251.5,227.0 252.0,226.9 252.5,226.9 253.0,226.8 253.5,226.7 254.0,226.6 254.5,226.6 255.0,226.5 255.5,226.4 256.0,226.4 256.5,226.3 257.0,226.2 257.5,226.1 258.0,226.1 258.5,226.0 259.0,225.9 259.5,225.8 260.0,225.8 260.5,225.7 261.0,225.6 261.5,225.5 262.0,225.5 262.5,225.4 263.0,225.3 263.5,225.2 264.0,225.2 264.5,225.1 265.0,225.0 265.5,224.9 266.0,224.9 266.5,224.8 267.0,224.7 267.5,224.7 268.0,224.6 268.5,224.5 269.0,224.5 269.5,224.4 270.0,224.3 270.5,224.3 271.0,224.2 271.5,224.1 272.0,224.0 272.5,223.9 273.0,223.8 273.5,223.6 274.0,223.5 274.5,223.3 275.0,223.1 275.5,222.9 276.0,222.7 276.5,222.4 277.0,222.2 277.5,221.9 278.0,221.6 278.5,221.2 279.0,220.8 279.5,220.4 280.0,220.0 280.5,219.5 281.0,219.0 281.5,218.5 282.0,218.0 282.5,217.4 283.0,216.8 283.5,216.2 284.0,215.6 284.5,215.0 285.0,214.4 285.5,213.7 286.0,213.0 286.5,212.3 287.0,211.6 287.5,210.9 288.0,210.1 288.5,209.4 289.0,208.6 289.5,207.9 290.0,207.2 290.5,206.5 291.0,205.9 291.5,205.3 292.0,204.7 292.5,204.1 293.0,203.6 293.5,203.0 294.0,202.4 294.5,201.9 295.0,201.3 295.5,200.7 296.0,200.1 296.5,199.6 297.0,199.0 297.5,198.4 298.0,197.8 298.5,197.2 299.0,196.6 299.5,196.0 300.0,195.4 300.5,194.8 301.0,194.2 301.5,193.5 302.0,192.9 302.5,192.2 303.0,191.6 303.5,190.9 304.0,190.3 304.5,189.6 305.0,189.0 305.5,188.3 306.0,187.5 306.5,186.8 307.0,186.0 307.5,185.2 308.0,184.3 308.5,183.3 309.0,182.2 309.5,181.0 310.0,179.6 310.5,178.1 311.0,176.5 311.5,175.0 312.0,173.5 312.5,172.1 313.0,170.8 313.5,169.6 314.0,168.4 314.5,167.2 315.0,166.1 315.5,164.9 316.0,163.8 316.5,162.8 317.0,161.7 317.5,160.6 318.0,159.5 318.5,158.5 319.0,157.4 319.5,156.4 320.0,155.3 320.5,154.3 321.0,153.2 321.5,152.1 322.0,151.1 322.5,150.1 323.0,149.2 323.5,148.3 324.0,147.5 324.5,146.8 325.0,146.0 325.5,145.3 326.0,144.6 326.5,144.0 327.0,143.3 327.5,142.7 328.0,142.1 328.5,141.5 329.0,140.9 329.5,140.3 330.0,139.6 330.5,138.9 331.0,138.2 331.5,137.4 332.0,136.5 332.5,135.5 333.0,134.4 333.5,133.2 334.0,131.9 334.5,130.6 335.0,129.2 335.5,127.7 336.0,126.3 336.5,124.8 337.0,123.3 337.5,121.8 338.0,120.3 338.5,118.8 339.0,117.2 339.5,115.7 340.0,114.1 340.5,112.4 341.0,110.6 341.5,108.8 342.0,106.8 342.5,104.8 343.0,102.7 343.5,100.5 344.0,98.4 344.5,96.2 345.0,94.1 345.5,91.9 346.0,89.7 346.5,87.6 347.0,85.4 347.5,83.1 348.0,80.7 348.5,78.3 349.0,76.0 349.5,73.7 350.0,71.7 350.5,69.8 351.0,68.0 351.5,66.4 352.0,64.8 352.5,63.4 353.0,62.1 353.5,60.8 354.0,59.7 354.5,58.7 355.0,57.8 355.5,57.1 356.0,56.6 356.5,56.3 357.0,56.2 357.5,56.4 358.0,56.9 358.5,57.6 359.0,58.6 359.5,59.8 360.0,61.4 360.5,63.3 361.0,65.6 361.5,68.2 362.0,71.1 362.5,74.4 363.0,78.0 363.5,81.9 364.0,86.0 364.5,90.4 365.0,95.0 365.5,99.7 366.0,104.6 366.5,109.6 367.0,114.6 367.5,119.6 368.0,124.6 368.5,129.6 369.0,134.7 369.5,139.8 370.0,145.0 370.5,150.4 371.0,155.8 371.5,161.4 372.0,166.9 372.5,172.5 373.0,178.1 373.5,183.6 374.0,189.1 374.5,194.4 375.0,199.4 375.5,204.0 376.0,208.3 376.5,212.2 377.0,215.7 377.5,219.1 378.0,222.2 378.5,225.0 379.0,227.8 379.5,230.3 380.0,232.8 380.5,235.1 381.0,237.3 381.5,239.3 382.0,241.2 382.5,243.0 383.0,244.7 383.5,246.2 384.0,247.5 384.5,248.7 385.0,249.8 385.5,250.8 386.0,251.7 386.5,252.5 387.0,253.2 387.5,253.9 388.0,254.5 388.5,255.1 389.0,255.7 389.5,256.2 390.0,256.7 390.5,257.1 391.0,257.6 391.5,258.0 392.0,258.3 392.5,258.7 393.0,259.0 393.5,259.4 394.0,259.7 394.5,260.0 395.0,260.3 395.5,260.5 396.0,260.7 396.5,260.9 397.0,261.1 397.5,261.3 398.0,261.5 398.5,261.6 399.0,261.7 399.5,261.9 400.0,262.0 400.5,262.1 401.0,262.2 401.5,262.3 402.0,262.4 402.5,262.5 403.0,262.6 403.5,262.7 404.0,262.7 404.5,262.8 405.0,262.8 405.5,262.9 406.0,262.9 406.5,263.0 407.0,263.0 407.5,263.0 408.0,263.1 408.5,263.1 409.0,263.1 409.5,263.1 410.0,263.1 410.5,263.2 411.0,263.2 411.5,263.2 412.0,263.2 412.5,263.2 413.0,263.2 413.5,263.2 414.0,263.2 414.5,263.2 415.0,263.2 415.5,263.2 416.0,263.2 416.5,263.2 417.0,263.2 417.5,263.2 418.0,263.2 418.5,263.2 419.0,263.2 419.5,263.2 420.0,263.2 420.5,263.2 421.0,263.2 421.5,263.2 422.0,263.2 422.5,263.2 423.0,263.2 423.5,263.2 424.0,263.2 424.5,263.2 425.0,263.2 425.5,263.2 426.0,263.2 426.5,263.2 427.0,263.2 427.5,263.2 428.0,263.2 428.5,263.2 429.0,263.2 429.5,263.2 430.0,263.2 430.5,263.2 431.0,263.2 431.5,263.2 432.0,263.2 432.5,263.2 433.0,263.2 433.5,263.2 434.0,263.2 434.5,263.2 435.0,263.2 435.5,263.2 436.0,263.2 436.5,263.2 437.0,263.2 437.5,263.2 438.0,263.2 438.5,263.2 439.0,263.2 439.5,263.2 440.0,263.2 440.5,263.2 441.0,263.2 441.5,263.2 442.0,263.2 442.5,263.2 443.0,263.2 443.5,263.2 444.0,263.2 444.5,263.2 445.0,263.2 445.5,263.2 446.0,263.2 446.5,263.2 447.0,263.2 447.5,263.2 448.0,263.2 448.5,263.2 449.0,263.2 449.5,263.2 450.0,263.2 450.5,263.2 451.0,263.2 451.5,263.2 452.0,263.2 452.5,263.2 453.0,263.2 453.5,263.2 454.0,263.2 454.5,263.2 455.0,263.2 455.5,263.2 456.0,263.2 456.5,263.2 457.0,263.2 457.5,263.2 458.0,263.2 458.5,263.2 459.0,263.2 459.5,263.2 460.0,263.2 460.5,263.2 461.0,263.2 461.5,263.2 462.0,263.2 462.5,263.2 463.0,263.2 463.5,263.2 464.0,263.2 464.5,263.2 465.0,263.2 465.5,263.2 466.0,263.2 466.5,263.2 467.0,263.2 467.5,263.2 468.0,263.2 468.5,263.2 469.0,263.2 469.5,263.2 470.0,263.2 470.5,263.2 471.0,263.2 471.5,263.2 472.0,263.2 472.5,263.2 473.0,263.2 473.5,263.2 474.0,263.2 474.5,263.2 475.0,263.2"/>
<polyline stroke="#95d94e" points="52.0,26.0 52.5,29.3 53.0,33.4 53.5,38.0 54.0,42.7 54.5,47.3 55.0,51.9 55.5,56.3 56.0,60.6 56.5,64.8 57.0,68.9 57.5,72.9 58.0,76.8 58.5,80.7 59.0,84.4 59.5,88.1 60.0,91.7 60.5,95.1 61.0,98.3 61.5,101.2 62.0,103.8 62.5,106.2 63.0,108.3 63.5,110.3 64.0,111.9 64.5,113.4 65.0,114.6 65.5,115.6 66.0,116.5 66.5,117.2 67.0,117.7 67.5,118.1 68.0,118.4 68.5,118.6 69.0,118.7 69.5,118.7 70.0,118.6 70.5,118.5 71.0,118.3 71.5,118.0 72.0,117.5 72.5,116.9 73.0,116.2 73.5,115.3 74.0,114.3 74.5,113.4 75.0,112.3 75.5,111.2 76.0,110.1 76.5,108.8 77.0,107.6 77.5,106.3 78.0,104.9 78.5,103.5 79.0,102.0 79.5,100.6 80.0,99.1 80.5,97.7 81.0,96.2 81.5,94.8 82.0,93.3 82.5,92.0 83.0,90.6 83.5,89.4 84.0,88.2 84.5,87.2 85.0,86.3 85.5,85.5 86.0,84.9 86.5,84.6 87.0,84.4 87.5,84.5 88.0,84.9 88.5,85.6 89.0,86.7 89.5,88.0 90.0,89.7 90.5,91.7 91.0,93.9 91.5,96.2 92.0,98.7 92.5,101.2 93.0,103.8 93.5,106.5 94.0,109.3 94.5,112.2 95.0,115.3 95.5,118.5 96.0,121.7 96.5,125.0 97.0,128.3 97.5,131.6 98.0,134.9 98.5,138.2 99.0,141.5 99.5,144.8 100.0,148.0 100.5,151.2 101.0,154.4 101.5,157.6 102.0,160.8 102.5,163.8 103.0,166.8 103.5,169.6 104.0,172.1 104.5,174.4 105.0,176.5 105.5,178.4 106.0,180.0 106.5,181.5 107.0,182.9 107.5,184.1 108.0,185.2 108.5,186.2 109.0,187.2 109.5,188.0 110.0,188.7 110.5,189.4 111.0,190.0 111.5,190.6 112.0,191.1 112.5,191.6 113.0,192.1 113.5,192.5 114.0,192.9 114.5,193.3 115.0,193.7 115.5,194.1 116.0,194.4 116.5,194.7 117.0,195.0 117.5,195.3 118.0,195.6 118.5,195.9 119.0,196.2 119.5,196.5 120.0,196.8 120.5,197.1 121.0,197.5 121.5,197.8 122.0,198.1 122.5,198.4 123.0,198.6 123.5,198.8 124.0,198.9 124.5,198.9 125.0,198.9 125.5,198.9 126.0,198.9 126.5,198.8 127.0,198.7 127.5,198.6 128.0,198.4 128.5,198.2 129.0,197.9 129.5,197.6 130.0,197.3 130.5,197.0 131.0,196.8 131.5,196.6 132.0,196.6 132.5,196.7 133.0,196.9 133.5,197.2 134.0,197.5 134.5,197.8 135.0,198.1 135.5,198.4 136.0,198.7 136.5,199.0 137.0,199.3 137.5,199.6 138.0,199.9 138.5,200.1 139.0,200.4 139.5,200.7 140.0,200.9 140.5,201.2 141.0,201.4 141.5,201.7 142.0,202.0 142.5,202.2 143.0,202.5 143.5,202.8 144.0,203.1 144.5,203.5 145.0,203.8 145.5,204.2 146.0,204.6 146.5,204.9 147.0,205.3 147.5,205.7 148.0,206.1 148.5,206.5 149.0,207.0 149.5,207.4 150.0,207.8 150.5,208.2 151.0,208.6 151.5,208.9 152.0,209.2 152.5,209.5 153.0,209.7 153.5,209.9 154.0,210.1 154.5,210.3 155.0,210.4 155.5,210.5 156.0,210.6 156.5,210.6 157.0,210.6 157.5,210.6 158.0,210.6 158.5,210.6 159.0,210.6 159.5,210.5 160.0,210.5 160.5,210.4 161.0,210.3 161.5,210.2 162.0,210.1 162.5,210.0 163.0,209.8 163.5,209.7 164.0,209.5 164.5,209.3 165.0,209.1 165.5,208.8 166.0,208.6 166.5,208.3 167.0,208.0 167.5,207.7 168.0,207.4 168.5,207.1 169.0,206.8 169.5,206.4 170.0,206.0 170.5,205.6 171.0,205.2 171.5,204.8 172.0,204.4 172.5,204.1 173.0,203.7 173.5,203.3 174.0,202.9 174.5,202.6 175.0,202.2 175.5,201.9 176.0,201.7 176.5,201.4 177.0,201.3 177.5,201.1 178.0,201.0 178.5,200.9 179.0,200.9 179.5,200.8 180.0,200.8 180.5,200.8 181.0,200.9 181.5,200.9 182.0,201.1 182.5,201.2 183.0,201.4 183.5,201.7 184.0,201.9 184.5,202.2 185.0,202.5 185.5,202.9 186.0,203.2 186.5,203.6 187.0,204.1 187.5,204.5 188.0,204.9 188.5,205.3 189.0,205.8 189.5,206.2 190.0,206.7 190.5,207.2 191.0,207.7 191.5,208.2 192.0,208.7 192.5,209.2 193.0,209.8 193.5,210.3 194.0,210.9 194.5,211.4 195.0,212.0 195.5,212.5 196.0,213.0 196.5,213.6 197.0,214.1 197.5,214.7 198.0,215.2 198.5,215.8 199.0,216.3 199.5,216.8 200.0,217.3 200.5,217.8 201.0,218.3 201.5,218.8 202.0,219.2 202.5,219.7 203.0,220.1 203.5,220.5 204.0,221.0 204.5,221.4 205.0,221.8 205.5,222.1 206.0,222.5 206.5,222.9 207.0,223.2 207.5,223.6 208.0,223.9 208.5,224.2 209.0,224.5 209.5,224.8 210.0,225.1 210.5,225.3 211.0,225.5 211.5,225.7 212.0,225.9 212.5,226.1 213.0,226.2 213.5,226.4 214.0,226.5 214.5,226.6 215.0,226.7 215.5,226.8 216.0,226.9 216.5,227.1 217.0,227.2 217.5,227.3 218.0,227.4 218.5,227.4 219.0,227.5 219.5,227.5 220.0,227.5 220.5,227.5 221.0,227.5 221.5,227.5 222.0,227.5 222.5,227.4 223.0,227.4 223.5,227.4 224.0,227.4 224.5,227.3 225.0,227.3 225.5,227.3 226.0,227.2 226.5,227.2 227.0,227.1 227.5,227.1 228.0,227.0 228.5,227.0 229.0,226.9 229.5,226.8 230.0,226.8 230.5,226.7 231.0,226.6 231.5,226.6 232.0,226.5 232.5,226.4 233.0,226.3 233.5,226.3 234.0,226.2 234.5,226.1 235.0,226.1 235.5,226.0 236.0,226.0 236.5,225.9 237.0,225.8 237.5,225.8 238.0,225.7 238.5,225.6 239.0,225.6 239.5,225.5 240.0,225.5 240.5,225.4 241.0,225.3 241.5,225.3 242.0,225.2 242.5,225.1 243.0,225.1 243.5,225.0 244.0,224.9 244.5,224.9 245.0,224.8 245.5,224.7 246.0,224.7 246.5,224.6 247.0,224.5 247.5,224.5 248.0,224.4 248.5,224.3 249.0,224.2 249.5,224.2 250.0,224.1 250.5,224.0 251.0,223.9 251.5,223.9 252.0,223.8 252.5,223.7 253.0,223.6 253.5,223.6 254.0,223.5 254.5,223.5 255.0,223.4 255.5,223.3 256.0,223.3 256.5,223.2 257.0,223.2 257.5,223.1 258.0,223.1 258.5,223.0 259.0,223.0 259.5,222.9 260.0,222.9 260.5,222.8 261.0,222.8 261.5,222.7 262.0,222.7 262.5,222.6 263.0,222.6 263.5,222.5 264.0,222.5 264.5,222.4 265.0,222.4 265.5,222.4 266.0,222.3 266.5,222.3 267.0,222.2 267.5,222.2 268.0,222.1 268.5,222.1 269.0,222.1 269.5,222.0 270.0,222.0 270.5,221.9 271.0,221.9 271.5,221.8 272.0,221.8 272.5,221.7 273.0,221.6 273.5,221.4 274.0,221.3 274.5,221.1 275.0,220.8 275.5,220.6 276.0,220.4 276.5,220.1 277.0,219.9 277.5,219.6 278.0,219.3 278.5,218.9 279.0,218.5 279.5,218.1 280.0,217.7 280.5,217.2 281.0,216.7 281.5,216.2 282.0,215.7 282.5,215.2 283.0,214.6 283.5,214.1 284.0,213.5 284.5,212.9 285.0,212.2 285.5,211.6 286.0,210.9 286.5,210.2 287.0,209.5 287.5,208.8 288.0,208.0 288.5,207.3 289.0,206.6 289.5,205.9 290.0,205.2 290.5,204.5 291.0,203.9 291.5,203.3 292.0,202.7 292.5,202.2 293.0,201.6 293.5,201.1 294.0,200.5 294.5,200.0 295.0,199.4 295.5,198.9 296.0,198.3 296.5,197.7 297.0,197.2 297.5,196.6 298.0,196.1 298.5,195.5 299.0,194.9 299.5,194.3 300.0,193.7 300.5,193.1 301.0,192.5 301.5,191.9 302.0,191.3 302.5,190.6 303.0,190.0 303.5,189.4 304.0,188.7 304.5,188.1 305.0,187.4 305.5,186.7 306.0,186.0 306.5,185.3 307.0,184.5 307.5,183.7 308.0,182.8 308.5,181.8 309.0,180.7 309.5,179.4 310.0,178.0 310.5,176.5 311.0,174.9 311.5,173.4 312.0,171.9 312.5,170.5 313.0,169.2 313.5,168.0 314.0,166.8 314.5,165.7 315.0,164.6 315.5,163.5 316.0,162.4 316.5,161.3 317.0,160.2 317.5,159.2 318.0,158.1 318.5,157.1 319.0,156.0 319.5,155.0 320.0,154.0 320.5,153.0 321.0,152.0 321.5,151.0 322.0,150.0 322.5,149.1 323.0,148.3 323.5,147.5 324.0,146.7 324.5,146.0 325.0,145.3 325.5,144.6 326.0,144.0 326.5,143.3 327.0,142.7 327.5,142.1 328.0,141.5 328.5,141.0 329.0,140.4 329.5,139.8 330.0,139.2 330.5,138.5 331.0,137.8 331.5,137.0 332.0,136.1 332.5,135.2 333.0,134.1 333.5,132.9 334.0,131.7 334.5,130.3 335.0,128.9 335.5,127.5 336.0,126.0 336.5,124.5 337.0,122.9 337.5,121.4 338.0,119.8 338.5,118.3 339.0,116.8 339.5,115.2 340.0,113.6 340.5,111.9 341.0,110.1 341.5,108.2 342.0,106.2 342.5,104.1 343.0,102.0 343.5,99.8 344.0,97.7 344.5,95.5 345.0,93.3 345.5,91.1 346.0,88.9 346.5,86.7 347.0,84.5 347.5,82.1 348.0,79.7 348.5,77.2 349.0,74.7 349.5,72.4 350.0,70.3 350.5,68.3 351.0,66.5 351.5,64.8 352.0,63.2 352.5,61.7 353.0,60.3 353.5,59.1 354.0,57.9 354.5,56.8 355.0,55.9 355.5,55.2 356.0,54.6 356.5,54.2 357.0,54.1 357.5,54.3 358.0,54.7 358.5,55.4 359.0,56.4 359.5,57.7 360.0,59.3 360.5,61.1 361.0,63.4 361.5,65.9 362.0,68.8 362.5,72.1 363.0,75.7 363.5,79.6 364.0,83.8 364.5,88.2 365.0,92.9 365.5,97.7 366.0,102.6 366.5,107.6 367.0,112.6 367.5,117.6 368.0,122.6 368.5,127.6 369.0,132.7 369.5,137.8 370.0,143.1 370.5,148.5 371.0,154.0 371.5,159.6 372.0,165.2 372.5,170.9 373.0,176.6 373.5,182.2 374.0,187.8 374.5,193.2 375.0,198.3 375.5,203.0 376.0,207.4 376.5,211.4 377.0,215.0 377.5,218.4 378.0,221.5 378.5,224.5 379.0,227.2 379.5,229.8 380.0,232.3 380.5,234.6 381.0,236.8 381.5,238.9 382.0,240.8 382.5,242.6 383.0,244.3 383.5,245.8 384.0,247.2 384.5,248.5 385.0,249.6 385.5,250.6 386.0,251.5 386.5,252.3 387.0,253.1 387.5,253.8 388.0,254.4 388.5,255.0 389.0,255.6 389.5,256.1 390.0,256.6 390.5,257.0 391.0,257.5 391.5,257.9 392.0,258.3 392.5,258.6 393.0,259.0 393.5,259.3 394.0,259.6 394.5,259.9 395.0,260.2 395.5,260.5 396.0,260.7 396.5,260.9 397.0,261.1 397.5,261.3 398.0,261.4 398.5,261.6 399.0,261.7 399.5,261.8 400.0,262.0 400.5,262.1 401.0,262.2 401.5,262.3 402.0,262.4 402.5,262.5 403.0,262.6 403.5,262.6 404.0,262.7 404.5,262.8 405.0,262.8 405.5,262.9 406.0,262.9 406.5,263.0 407.0,263.0 407.5,263.0 408.0,263.1 408.5,263.1 409.0,263.1 409.5,263.1 410.0,263.1 410.5,263.1 411.0,263.2 411.5,263.2 412.0,263.2 412.5,263.2 413.0,263.2 413.5,263.2 414.0,263.2 414.5,263.2 415.0,263.2 415.5,263.2 416.0,263.2 416.5,263.2 417.0,263.2 417.5,263.2 418.0,263.2 418.5,263.2 419.0,263.2 419.5,263.2 420.0,263.2 420.5,263.2 421.0,263.2 421.5,263.2 422.0,263.2 422.5,263.2 423.0,263.2 423.5,263.2 424.0,263.2 424.5,263.2 425.0,263.2 425.5,263.2 426.0,263.2 426.5,263.2 427.0,263.2 427.5,263.2 428.0,263.2 428.5,263.2 429.0,263.2 429.5,263.2 430.0,263.2 430.5,263.2 431.0,263.2 431.5,263.2 432.0,263.2 432.5,263.2 433.0,263.2 433.5,263.2 434.0,263.2 434.5,263.2 435.0,263.2 435.5,263.2 436.0,263.2 436.5,263.2 437.0,263.2 437.5,263.2 438.0,263.2 438.5,263.2 439.0,263.2 439.5,263.2 440.0,263.2 440.5,263.2 441.0,263.2 441.5,263.2 442.0,263.2 442.5,263.2 443.0,263.2 443.5,263.2 444.0,263.2 444.5,263.2 445.0,263.2 445.5,263.2 446.0,263.2 446.5,263.2 447.0,263.2 447.5,263.2 448.0,263.2 448.5,263.2 449.0,263.2 449.5,263.2 450.0,263.2 450.5,263.2 451.0,263.2 451.5,263.2 452.0,263.2 452.5,263.2 453.0,263.2 453.5,263.2 454.0,263.2 454.5,263.2 455.0,263.2 455.5,263.2 456.0,263.2 456.5,263.2 457.0,263.2 457.5,263.2 458.0,263.2 458.5,263.2 459.0,263.2 459.5,263.2 460.0,263.2 460.5,263.2 461.0,263.2 461.5,263.2 462.0,263.2 462.5,263.2 463.0,263.2 463.5,263.2 464.0,263.2 464.5,263.2 465.0,263.2 465.5,263.2 466.0,263.2 466.5,263.2 467.0,263.2 467.5,263.2 468.0,263.2 468.5,263.2 469.0,263.2 469.5,263.2 470.0,263.2 470.5,263.2 471.0,263.2 471.5,263.2 472.0,263.2 472.5,263.2 473.0,263.2 473.5,263.2 474.0,263.2 474.5,263.2 475.0,263.2"/>
<polyline stroke="#1f3cff" points="52.0,14.6 52.5,17.9 53.0,22.0 53.5,26.6 54.0,31.3 54.5,36.0 55.0,40.6 55.5,45.1 56.0,49.6 56.5,54.0 57.0,58.2 57.5,62.5 58.0,66.6 58.5,70.8 59.0,74.9 59.5,78.9 60.0,82.8 60.5,86.5 61.0,90.0 61.5,93.2 62.0,96.0 62.5,98.6 63.0,100.9 63.5,103.0 64.0,104.7 64.5,106.3 65.0,107.6 65.5,108.6 66.0,109.4 66.5,110.1 67.0,110.6 67.5,111.0 68.0,111.3 68.5,111.4 69.0,111.4 69.5,111.3 70.0,111.1 70.5,110.9 71.0,110.5 71.5,110.0 72.0,109.4 72.5,108.6 73.0,107.6 73.5,106.5 74.0,105.4 74.5,104.2 75.0,103.0 75.5,101.7 76.0,100.4 76.5,99.1 77.0,97.7 77.5,96.4 78.0,95.0 78.5,93.6 79.0,92.2 79.5,90.7 80.0,89.3 80.5,87.9 81.0,86.5 81.5,85.1 82.0,83.7 82.5,82.4 83.0,81.1 83.5,80.0 84.0,78.9 84.5,78.0 85.0,77.2 85.5,76.5 86.0,76.1 86.5,75.9 87.0,75.9 87.5,76.2 88.0,76.8 88.5,77.8 89.0,79.1 89.5,80.7 90.0,82.6 90.5,84.8 91.0,87.2 91.5,89.8 92.0,92.5 92.5,95.2 93.0,98.1 93.5,100.9 94.0,103.9 94.5,107.0 95.0,110.2 95.5,113.4 96.0,116.8 96.5,120.1 97.0,123.6 97.5,127.0 98.0,130.4 98.5,133.9 99.0,137.3 99.5,140.8 100.0,144.2 100.5,147.7 101.0,151.1 101.5,154.5 102.0,157.9 102.5,161.2 103.0,164.3 103.5,167.3 104.0,169.9 104.5,172.3 105.0,174.4 105.5,176.3 106.0,178.0 106.5,179.5 107.0,180.8 107.5,182.0 108.0,183.1 108.5,184.1 109.0,185.0 109.5,185.8 110.0,186.5 110.5,187.2 111.0,187.7 111.5,188.3 112.0,188.8 112.5,189.2 113.0,189.7 113.5,190.1 114.0,190.4 114.5,190.8 115.0,191.1 115.5,191.4 116.0,191.7 116.5,192.0 117.0,192.2 117.5,192.5 118.0,192.7 118.5,192.9 119.0,193.2 119.5,193.4 120.0,193.6 120.5,193.8 121.0,194.1 121.5,194.3 122.0,194.5 122.5,194.7 123.0,194.8 123.5,194.9 124.0,194.9 124.5,195.0 125.0,194.9 125.5,194.9 126.0,194.8 126.5,194.7 127.0,194.6 127.5,194.4 128.0,194.1 128.5,193.8 129.0,193.5 129.5,193.1 130.0,192.8 130.5,192.4 131.0,192.2 131.5,192.0 132.0,192.0 132.5,192.1 133.0,192.3 133.5,192.6 134.0,192.9 134.5,193.2 135.0,193.5 135.5,193.9 136.0,194.2 136.5,194.5 137.0,194.8 137.5,195.1 138.0,195.4 138.5,195.6 139.0,195.8 139.5,196.1 140.0,196.3 140.5,196.6 141.0,196.8 141.5,197.0 142.0,197.2 142.5,197.5 143.0,197.7 143.5,197.9 144.0,198.2 144.5,198.4 145.0,198.7 145.5,198.9 146.0,199.2 146.5,199.5 147.0,199.7 147.5,200.0 148.0,200.3 148.5,200.6 149.0,200.8 149.5,201.1 150.0,201.4 150.5,201.6 151.0,201.9 151.5,202.1 152.0,202.3 152.5,202.4 153.0,202.6 153.5,202.7 154.0,202.8 154.5,202.8 155.0,202.9 155.5,202.9 156.0,202.9 156.5,202.9 157.0,202.8 157.5,202.8 158.0,202.8 158.5,202.7 159.0,202.6 159.5,202.5 160.0,202.4 160.5,202.2 161.0,202.0 161.5,201.8 162.0,201.6 162.5,201.4 163.0,201.1 163.5,200.8 164.0,200.5 164.5,200.2 165.0,199.9 165.5,199.5 166.0,199.2 166.5,198.8 167.0,198.4 167.5,198.1 168.0,197.7 168.5,197.3 169.0,196.8 169.5,196.4 170.0,196.0 170.5,195.5 171.0,195.1 171.5,194.6 172.0,194.1 172.5,193.7 173.0,193.2 173.5,192.8 174.0,192.4 174.5,191.9 175.0,191.6 175.5,191.2 176.0,190.9 176.5,190.6 177.0,190.3 177.5,190.1 178.0,190.0 178.5,189.9 179.0,189.9 179.5,189.9 180.0,190.0 180.5,190.1 181.0,190.2 181.5,190.4 182.0,190.6 182.5,190.8 183.0,191.1 183.5,191.4 184.0,191.7 184.5,192.1 185.0,192.5 185.5,192.9 186.0,193.4 186.5,193.8 187.0,194.3 187.5,194.8 188.0,195.3 188.5,195.9 189.0,196.4 189.5,196.9 190.0,197.5 190.5,198.1 191.0,198.6 191.5,199.2 192.0,199.8 192.5,200.5 193.0,201.1 193.5,201.8 194.0,202.4 194.5,203.1 195.0,203.7 195.5,204.4 196.0,205.0 196.5,205.7 197.0,206.4 197.5,207.0 198.0,207.7 198.5,208.3 199.0,208.9 199.5,209.6 200.0,210.2 200.5,210.8 201.0,211.4 201.5,211.9 202.0,212.5 202.5,213.1 203.0,213.6 203.5,214.1 204.0,214.6 204.5,215.1 205.0,215.6 205.5,216.1 206.0,216.6 206.5,217.0 207.0,217.5 207.5,217.9 208.0,218.3 208.5,218.7 209.0,219.1 209.5,219.4 210.0,219.8 210.5,220.1 211.0,220.4 211.5,220.7 212.0,220.9 212.5,221.2 213.0,221.4 213.5,221.7 214.0,221.9 214.5,222.0 215.0,222.2 215.5,222.4 216.0,222.5 216.5,222.6 217.0,222.8 217.5,222.9 218.0,223.0 218.5,223.1 219.0,223.2 219.5,223.2 220.0,223.2 220.5,223.2 221.0,223.2 221.5,223.2 222.0,223.2 222.5,223.2 223.0,223.2 223.5,223.2 224.0,223.1 224.5,223.1 225.0,223.1 225.5,223.1 226.0,223.0 226.5,223.0 227.0,222.9 227.5,222.9 228.0,222.8 228.5,222.8 229.0,222.7 229.5,222.6 230.0,222.6 230.5,222.5 231.0,222.4 231.5,222.4 232.0,222.3 232.5,222.2 233.0,222.1 233.5,222.0 234.0,222.0 234.5,221.9 235.0,221.8 235.5,221.8 236.0,221.7 236.5,221.6 237.0,221.6 237.5,221.5 238.0,221.4 238.5,221.4 239.0,221.3 239.5,221.2 240.0,221.1 240.5,221.1 241.0,221.0 241.5,220.9 242.0,220.9 242.5,220.8 243.0,220.7 243.5,220.6 244.0,220.6 244.5,220.5 245.0,220.4 245.5,220.3 246.0,220.3 246.5,220.2 247.0,220.1 247.5,220.0 248.0,219.9 248.5,219.8 249.0,219.8 249.5,219.7 250.0,219.6 250.5,219.5 251.0,219.4 251.5,219.3 252.0,219.2 252.5,219.2 253.0,219.1 253.5,219.0 254.0,218.9 254.5,218.9 255.0,218.8 255.5,218.8 256.0,218.7 256.5,218.7 257.0,218.6 257.5,218.6 258.0,218.5 258.5,218.5 259.0,218.4 259.5,218.4 260.0,218.3 260.5,218.3 261.0,218.3 261.5,218.2 262.0,218.2 262.5,218.1 263.0,218.1 263.5,218.0 264.0,218.0 264.5,218.0 265.0,217.9 265.5,217.9 266.0,217.8 266.5,217.8 267.0,217.8 267.5,217.7 268.0,217.7 268.5,217.7 269.0,217.6 269.5,217.6 270.0,217.6 270.5,217.5 271.0,217.5 271.5,217.4 272.0,217.4 272.5,217.3 273.0,217.2 273.5,217.1 274.0,217.0 274.5,216.8 275.0,216.6 275.5,216.4 276.0,216.2 276.5,216.0 277.0,215.8 277.5,215.5 278.0,215.3 278.5,215.0 279.0,214.6 279.5,214.3 280.0,213.9 280.5,213.5 281.0,213.1 281.5,212.7 282.0,212.2 282.5,211.7 283.0,211.3 283.5,210.8 284.0,210.2 284.5,209.7 285.0,209.1 285.5,208.5 286.0,207.9 286.5,207.3 287.0,206.6 287.5,206.0 288.0,205.3 288.5,204.6 289.0,203.9 289.5,203.2 290.0,202.5 290.5,201.9 291.0,201.4 291.5,200.8 292.0,200.3 292.5,199.8 293.0,199.3 293.5,198.8 294.0,198.3 294.5,197.8 295.0,197.3 295.5,196.8 296.0,196.3 296.5,195.8 297.0,195.2 297.5,194.7 298.0,194.2 298.5,193.7 299.0,193.1 299.5,192.6 300.0,192.0 300.5,191.4 301.0,190.8 301.5,190.2 302.0,189.6 302.5,189.0 303.0,188.4 303.5,187.8 304.0,187.1 304.5,186.5 305.0,185.8 305.5,185.2 306.0,184.5 306.5,183.7 307.0,182.9 307.5,182.1 308.0,181.2 308.5,180.2 309.0,179.1 309.5,177.8 310.0,176.4 310.5,174.9 311.0,173.3 311.5,171.7 312.0,170.2 312.5,168.8 313.0,167.6 313.5,166.4 314.0,165.2 314.5,164.1 315.0,163.1 315.5,162.0 316.0,161.0 316.5,159.9 317.0,158.8 317.5,157.8 318.0,156.7 318.5,155.7 319.0,154.7 319.5,153.7 320.0,152.7 320.5,151.8 321.0,150.9 321.5,150.0 322.0,149.1 322.5,148.3 323.0,147.6 323.5,146.9 324.0,146.2 324.5,145.5 325.0,144.9 325.5,144.2 326.0,143.6 326.5,142.9 327.0,142.3 327.5,141.6 328.0,140.9 328.5,140.3 329.0,139.7 329.5,139.1 330.0,138.5 330.5,137.9 331.0,137.2 331.5,136.5 332.0,135.7 332.5,134.8 333.0,133.9 333.5,132.9 334.0,131.9 334.5,130.8 335.0,129.8 335.5,128.8 336.0,127.7 336.5,126.7 337.0,125.7 337.5,124.7 338.0,123.7 338.5,122.7 339.0,121.6 339.5,120.5 340.0,119.3 340.5,118.0 341.0,116.6 341.5,115.0 342.0,113.3 342.5,111.6 343.0,109.8 343.5,108.0 344.0,106.2 344.5,104.4 345.0,102.6 345.5,100.7 346.0,98.9 346.5,97.0 347.0,95.3 347.5,93.7 348.0,92.3 348.5,91.1 349.0,89.9 349.5,88.7 350.0,87.5 350.5,86.3 351.0,85.1 351.5,84.0 352.0,82.9 352.5,82.0 353.0,81.1 353.5,80.4 354.0,79.9 354.5,79.4 355.0,79.2 355.5,79.0 356.0,79.0 356.5,79.2 357.0,79.5 357.5,80.0 358.0,80.6 358.5,81.4 359.0,82.5 359.5,83.8 360.0,85.6 360.5,87.9 361.0,90.6 361.5,93.7 362.0,97.0 362.5,100.4 363.0,103.8 363.5,107.4 364.0,111.0 364.5,114.8 365.0,118.7 365.5,122.8 366.0,127.2 366.5,131.9 367.0,136.8 367.5,141.8 368.0,146.9 368.5,151.9 369.0,156.9 369.5,161.8 370.0,166.8 370.5,171.7 371.0,176.6 371.5,181.4 372.0,186.2 372.5,190.8 373.0,195.3 373.5,199.6 374.0,203.8 374.5,207.8 375.0,211.5 375.5,215.0 376.0,218.2 376.5,221.2 377.0,223.9 377.5,226.5 378.0,229.1 378.5,231.5 379.0,233.9 379.5,236.2 380.0,238.4 380.5,240.4 381.0,242.3 381.5,244.0 382.0,245.7 382.5,247.1 383.0,248.5 383.5,249.6 384.0,250.7 384.5,251.6 385.0,252.4 385.5,253.1 386.0,253.7 386.5,254.3 387.0,254.9 387.5,255.5 388.0,256.0 388.5,256.5 389.0,257.0 389.5,257.4 390.0,257.8 390.5,258.2 391.0,258.5 391.5,258.9 392.0,259.2 392.5,259.5 393.0,259.8 393.5,260.1 394.0,260.4 394.5,260.7 395.0,260.9 395.5,261.1 396.0,261.3 396.5,261.4 397.0,261.6 397.5,261.7 398.0,261.8 398.5,261.9 399.0,262.0 399.5,262.1 400.0,262.2 400.5,262.3 401.0,262.4 401.5,262.5 402.0,262.6 402.5,262.7 403.0,262.8 403.5,262.8 404.0,262.9 404.5,262.9 405.0,263.0 405.5,263.0 406.0,263.0 406.5,263.1 407.0,263.1 407.5,263.1 408.0,263.1 408.5,263.1 409.0,263.2 409.5,263.2 410.0,263.2 410.5,263.2 411.0,263.2 411.5,263.2 412.0,263.2 412.5,263.2 413.0,263.2 413.5,263.2 414.0,263.2 414.5,263.2 415.0,263.2 415.5,263.2 416.0,263.2 416.5,263.2 417.0,263.2 417.5,263.2 418.0,263.2 418.5,263.2 419.0,263.2 419.5,263.2 420.0,263.2 420.5,263.2 421.0,263.2 421.5,263.2 422.0,263.2 422.5,263.2 423.0,263.2 423.5,263.2 424.0,263.2 424.5,263.2 425.0,263.2 425.5,263.2 426.0,263.2 426.5,263.2 427.0,263.2 427.5,263.2 428.0,263.2 428.5,263.2 429.0,263.2 429.5,263.2 430.0,263.2 430.5,263.2 431.0,263.2 431.5,263.2 432.0,263.2 432.5,263.2 433.0,263.2 433.5,263.2 434.0,263.2 434.5,263.2 435.0,263.2 435.5,263.2 436.0,263.2 436.5,263.2 437.0,263.2 437.5,263.2 438.0,263.2 438.5,263.2 439.0,263.2 439.5,263.2 440.0,263.2 440.5,263.2 441.0,263.2 441.5,263.2 442.0,263.2 442.5,263.2 443.0,263.2 443.5,263.2 444.0,263.2 444.5,263.2 445.0,263.2 445.5,263.2 446.0,263.2 446.5,263.2 447.0,263.2 447.5,263.2 448.0,263.2 448.5,263.2 449.0,263.2 449.5,263.2 450.0,263.2 450.5,263.2 451.0,263.2 451.5,263.2 452.0,263.2 452.5,263.2 453.0,263.2 453.5,263.2 454.0,263.2 454.5,263.2 455.0,263.2 455.5,263.2 456.0,263.2 456.5,263.2 457.0,263.2 457.5,263.2 458.0,263.2 458.5,263.2 459.0,263.2 459.5,263.2 460.0,263.2 460.5,263.2 461.0,263.2 461.5,263.2 462.0,263.2 462.5,263.2 463.0,263.2 463.5,263.2 464.0,263.2 464.5,263.2 465.0,263.2 465.5,263.2 466.0,263.2 466.5,263.2 467.0,263.2 467.5,263.2 468.0,263.2 468.5,263.2 469.0,263.2 469.5,263.2 470.0,263.2 470.5,263.2 471.0,263.2 471.5,263.2 472.0,263.2 472.5,263.2 473.0,263.2 473.5,263.2 474.0,263.2 474.5,263.2 475.0,263.2"/>
<polyline stroke="#ff3cff" points="52.0,10.2 52.5,13.6 53.0,17.7 53.5,22.4 54.0,27.2 54.5,31.9 55.0,36.6 55.5,41.3 56.0,45.8 56.5,50.3 57.0,54.7 57.5,59.0 58.0,63.3 58.5,67.6 59.0,71.8 59.5,76.0 60.0,80.1 60.5,84.0 61.0,87.6 61.5,90.8 62.0,93.8 62.5,96.5 63.0,98.9 63.5,101.0 64.0,102.8 64.5,104.4 65.0,105.7 65.5,106.8 66.0,107.7 66.5,108.4 67.0,108.9 67.5,109.3 68.0,109.6 68.5,109.8 69.0,109.8 69.5,109.7 70.0,109.5 70.5,109.3 71.0,108.9 71.5,108.3 72.0,107.6 72.5,106.7 73.0,105.7 73.5,104.6 74.0,103.4 74.5,102.1 75.0,100.8 75.5,99.5 76.0,98.2 76.5,96.8 77.0,95.4 77.5,94.0 78.0,92.6 78.5,91.2 79.0,89.7 79.5,88.3 80.0,86.9 80.5,85.4 81.0,84.0 81.5,82.6 82.0,81.2 82.5,79.9 83.0,78.7 83.5,77.5 84.0,76.5 84.5,75.5 85.0,74.8 85.5,74.1 86.0,73.7 86.5,73.5 87.0,73.6 87.5,74.0 88.0,74.6 88.5,75.6 89.0,77.0 89.5,78.7 90.0,80.7 90.5,82.9 91.0,85.4 91.5,88.1 92.0,90.8 92.5,93.6 93.0,96.5 93.5,99.4 94.0,102.4 94.5,105.5 95.0,108.7 95.5,112.0 96.0,115.4 96.5,118.8 97.0,122.2 97.5,125.7 98.0,129.1 98.5,132.6 99.0,136.1 99.5,139.6 100.0,143.1 100.5,146.6 101.0,150.1 101.5,153.6 102.0,157.0 102.5,160.4 103.0,163.6 103.5,166.6 104.0,169.3 104.5,171.7 105.0,173.8 105.5,175.7 106.0,177.4 106.5,178.9 107.0,180.2 107.5,181.4 108.0,182.5 108.5,183.5 109.0,184.4 109.5,185.2 110.0,185.9 110.5,186.5 111.0,187.1 111.5,187.6 112.0,188.1 112.5,188.5 113.0,188.9 113.5,189.3 114.0,189.7 114.5,190.0 115.0,190.4 115.5,190.6 116.0,190.9 116.5,191.2 117.0,191.4 117.5,191.6 118.0,191.8 118.5,192.0 119.0,192.2 119.5,192.4 120.0,192.6 120.5,192.8 121.0,193.0 121.5,193.2 122.0,193.4 122.5,193.5 123.0,193.6 123.5,193.7 124.0,193.7 124.5,193.7 125.0,193.7 125.5,193.6 126.0,193.5 126.5,193.4 127.0,193.3 127.5,193.0 128.0,192.8 128.5,192.4 129.0,192.1 129.5,191.7 130.0,191.3 130.5,191.0 131.0,190.7 131.5,190.5 132.0,190.5 132.5,190.6 133.0,190.8 133.5,191.0 134.0,191.3 134.5,191.7 135.0,192.0 135.5,192.3 136.0,192.6 136.5,192.9 137.0,193.2 137.5,193.5 138.0,193.7 138.5,194.0 139.0,194.2 139.5,194.4 140.0,194.6 140.5,194.8 141.0,195.0 141.5,195.2 142.0,195.4 142.5,195.6 143.0,195.8 143.5,196.0 144.0,196.2 144.5,196.4 145.0,196.6 145.5,196.8 146.0,197.0 146.5,197.2 147.0,197.4 147.5,197.6 148.0,197.8 148.5,198.0 149.0,198.1 149.5,198.3 150.0,198.5 150.5,198.7 151.0,198.8 151.5,198.9 152.0,199.0 152.5,199.1 153.0,199.2 153.5,199.2 154.0,199.2 154.5,199.2 155.0,199.2 155.5,199.1 156.0,199.1 156.5,199.0 157.0,198.9 157.5,198.8 158.0,198.7 158.5,198.6 159.0,198.4 159.5,198.3 160.0,198.1 160.5,197.9 161.0,197.6 161.5,197.4 162.0,197.1 162.5,196.8 163.0,196.5 163.5,196.2 164.0,195.9 164.5,195.5 165.0,195.2 165.5,194.8 166.0,194.4 166.5,194.0 167.0,193.6 167.5,193.2 168.0,192.8 168.5,192.3 169.0,191.9 169.5,191.5 170.0,191.0 170.5,190.5 171.0,190.1 171.5,189.6 172.0,189.1 172.5,188.7 173.0,188.2 173.5,187.7 174.0,187.3 174.5,186.9 175.0,186.5 175.5,186.1 176.0,185.8 176.5,185.5 177.0,185.2 177.5,185.0 178.0,184.9 178.5,184.8 179.0,184.8 179.5,184.9 180.0,185.0 180.5,185.1 181.0,185.2 181.5,185.4 182.0,185.6 182.5,185.9 183.0,186.2 183.5,186.5 184.0,186.9 184.5,187.2 185.0,187.6 185.5,188.1 186.0,188.6 186.5,189.1 187.0,189.6 187.5,190.1 188.0,190.6 188.5,191.2 189.0,191.7 189.5,192.3 190.0,192.9 190.5,193.5 191.0,194.1 191.5,194.7 192.0,195.3 192.5,196.0 193.0,196.6 193.5,197.3 194.0,198.0 194.5,198.7 195.0,199.4 195.5,200.1 196.0,200.8 196.5,201.5 197.0,202.2 197.5,202.9 198.0,203.6 198.5,204.3 199.0,204.9 199.5,205.6 200.0,206.3 200.5,206.9 201.0,207.5 201.5,208.1 202.0,208.7 202.5,209.3 203.0,209.9 203.5,210.5 204.0,211.0 204.5,211.5 205.0,212.1 205.5,212.6 206.0,213.1 206.5,213.6 207.0,214.0 207.5,214.5 208.0,214.9 208.5,215.4 209.0,215.8 209.5,216.1 210.0,216.5 210.5,216.9 211.0,217.2 211.5,217.5 212.0,217.8 212.5,218.1 213.0,218.4 213.5,218.6 214.0,218.9 214.5,219.1 215.0,219.2 215.5,219.4 216.0,219.6 216.5,219.7 217.0,219.9 217.5,220.0 218.0,220.1 218.5,220.2 219.0,220.3 219.5,220.3 220.0,220.4 220.5,220.4 221.0,220.3 221.5,220.3 222.0,220.3 222.5,220.3 223.0,220.3 223.5,220.2 224.0,220.2 224.5,220.2 225.0,220.2 225.5,220.1 226.0,220.1 226.5,220.1 227.0,220.0 227.5,220.0 228.0,219.9 228.5,219.8 229.0,219.8 229.5,219.7 230.0,219.6 230.5,219.5 231.0,219.4 231.5,219.3 232.0,219.2 232.5,219.2 233.0,219.1 233.5,219.0 234.0,218.9 234.5,218.8 235.0,218.7 235.5,218.6 236.0,218.6 236.5,218.5 237.0,218.4 237.5,218.3 238.0,218.2 238.5,218.2 239.0,218.1 239.5,218.0 240.0,217.9 240.5,217.8 241.0,217.7 241.5,217.6 242.0,217.6 242.5,217.5 243.0,217.4 243.5,217.3 244.0,217.2 244.5,217.1 245.0,217.0 245.5,216.9 246.0,216.8 246.5,216.7 247.0,216.6 247.5,216.5 248.0,216.4 248.5,216.3 249.0,216.2 249.5,216.1 250.0,216.0 250.5,215.9 251.0,215.8 251.5,215.7 252.0,215.6 252.5,215.5 253.0,215.4 253.5,215.3 254.0,215.3 254.5,215.2 255.0,215.1 255.5,215.0 256.0,215.0 256.5,214.9 257.0,214.9 257.5,214.8 258.0,214.8 258.5,214.7 259.0,214.6 259.5,214.6 260.0,214.5 260.5,214.5 261.0,214.4 261.5,214.4 262.0,214.3 262.5,214.3 263.0,214.3 263.5,214.2 264.0,214.2 264.5,214.1 265.0,214.1 265.5,214.0 266.0,214.0 266.5,213.9 267.0,213.9 267.5,213.8 268.0,213.8 268.5,213.8 269.0,213.7 269.5,213.7 270.0,213.6 270.5,213.6 271.0,213.6 271.5,213.5 272.0,213.4 272.5,213.4 273.0,213.3 273.5,213.2 274.0,213.1 274.5,212.9 275.0,212.8 275.5,212.6 276.0,212.5 276.5,212.3 277.0,212.1 277.5,211.9 278.0,211.7 278.5,211.5 279.0,211.2 279.5,210.9 280.0,210.6 280.5,210.3 281.0,209.9 281.5,209.6 282.0,209.2 282.5,208.8 283.0,208.4 283.5,207.9 284.0,207.5 284.5,207.0 285.0,206.5 285.5,206.0 286.0,205.4 286.5,204.8 287.0,204.2 287.5,203.6 288.0,202.9 288.5,202.3 289.0,201.6 289.5,201.0 290.0,200.4 290.5,199.8 291.0,199.3 291.5,198.8 292.0,198.3 292.5,197.9 293.0,197.4 293.5,197.0 294.0,196.5 294.5,196.1 295.0,195.6 295.5,195.1 296.0,194.7 296.5,194.2 297.0,193.7 297.5,193.3 298.0,192.8 298.5,192.3 299.0,191.8 299.5,191.3 300.0,190.7 300.5,190.2 301.0,189.6 301.5,189.0 302.0,188.4 302.5,187.8 303.0,187.2 303.5,186.6 304.0,186.0 304.5,185.3 305.0,184.7 305.5,184.0 306.0,183.3 306.5,182.6 307.0,181.8 307.5,181.0 308.0,180.1 308.5,179.1 309.0,178.0 309.5,176.7 310.0,175.2 310.5,173.7 311.0,172.0 311.5,170.5 312.0,169.0 312.5,167.6 313.0,166.3 313.5,165.2 314.0,164.1 314.5,163.0 315.0,161.9 315.5,160.9 316.0,159.9 316.5,158.8 317.0,157.8 317.5,156.7 318.0,155.7 318.5,154.6 319.0,153.6 319.5,152.6 320.0,151.7 320.5,150.8 321.0,150.0 321.5,149.1 322.0,148.3 322.5,147.6 323.0,146.9 323.5,146.2 324.0,145.6 324.5,144.9 325.0,144.3 325.5,143.7 326.0,143.1 326.5,142.4 327.0,141.8 327.5,141.2 328.0,140.6 328.5,140.0 329.0,139.5 329.5,138.9 330.0,138.3 330.5,137.7 331.0,137.1 331.5,136.4 332.0,135.6 332.5,134.7 333.0,133.7 333.5,132.7 334.0,131.6 334.5,130.5 335.0,129.4 335.5,128.2 336.0,127.1 336.5,125.9 337.0,124.7 337.5,123.5 338.0,122.4 338.5,121.2 339.0,120.0 339.5,118.8 340.0,117.4 340.5,116.0 341.0,114.5 341.5,112.8 342.0,111.0 342.5,109.2 343.0,107.3 343.5,105.4 344.0,103.5 344.5,101.5 345.0,99.6 345.5,97.6 346.0,95.7 346.5,93.7 347.0,91.8 347.5,90.0 348.0,88.3 348.5,86.6 349.0,85.0 349.5,83.5 350.0,82.0 350.5,80.5 351.0,79.1 351.5,77.8 352.0,76.6 352.5,75.5 353.0,74.5 353.5,73.6 354.0,72.8 354.5,72.2 355.0,71.7 355.5,71.4 356.0,71.2 356.5,71.2 357.0,71.4 357.5,71.7 358.0,72.3 358.5,73.1 359.0,74.1 359.5,75.5 360.0,77.2 360.5,79.3 361.0,81.9 361.5,84.8 362.0,87.9 362.5,91.3 363.0,94.8 363.5,98.5 364.0,102.3 364.5,106.3 365.0,110.4 365.5,114.8 366.0,119.3 366.5,124.1 367.0,129.0 367.5,134.0 368.0,139.1 368.5,144.1 369.0,149.1 369.5,154.1 370.0,159.2 370.5,164.2 371.0,169.3 371.5,174.4 372.0,179.5 372.5,184.4 373.0,189.3 373.5,194.0 374.0,198.7 374.5,203.1 375.0,207.3 375.5,211.2 376.0,214.7 376.5,218.0 377.0,221.1 377.5,223.9 378.0,226.6 378.5,229.3 379.0,231.8 379.5,234.1 380.0,236.4 380.5,238.5 381.0,240.5 381.5,242.4 382.0,244.1 382.5,245.7 383.0,247.1 383.5,248.4 384.0,249.6 384.5,250.6 385.0,251.5 385.5,252.3 386.0,253.0 386.5,253.7 387.0,254.3 387.5,254.9 388.0,255.5 388.5,256.0 389.0,256.5 389.5,257.0 390.0,257.4 390.5,257.8 391.0,258.2 391.5,258.6 392.0,258.9 392.5,259.2 393.0,259.6 393.5,259.9 394.0,260.1 394.5,260.4 395.0,260.7 395.5,260.9 396.0,261.1 396.5,261.3 397.0,261.4 397.5,261.6 398.0,261.7 398.5,261.8 399.0,261.9 399.5,262.0 400.0,262.2 400.5,262.3 401.0,262.4 401.5,262.5 402.0,262.5 402.5,262.6 403.0,262.7 403.5,262.8 404.0,262.8 404.5,262.9 405.0,262.9 405.5,263.0 406.0,263.0 406.5,263.0 407.0,263.1 407.5,263.1 408.0,263.1 408.5,263.1 409.0,263.1 409.5,263.1 410.0,263.2 410.5,263.2 411.0,263.2 411.5,263.2 412.0,263.2 412.5,263.2 413.0,263.2 413.5,263.2 414.0,263.2 414.5,263.2 415.0,263.2 415.5,263.2 416.0,263.2 416.5,263.2 417.0,263.2 417.5,263.2 418.0,263.2 418.5,263.2 419.0,263.2 419.5,263.2 420.0,263.2 420.5,263.2 421.0,263.2 421.5,263.2 422.0,263.2 422.5,263.2 423.0,263.2 423.5,263.2 424.0,263.2 424.5,263.2 425.0,263.2 425.5,263.2 426.0,263.2 426.5,263.2 427.0,263.2 427.5,263.2 428.0,263.2 428.5,263.2 429.0,263.2 429.5,263.2 430.0,263.2 430.5,263.2 431.0,263.2 431.5,263.2 432.0,263.2 432.5,263.2 433.0,263.2 433.5,263.2 434.0,263.2 434.5,263.2 435.0,263.2 435.5,263.2 436.0,263.2 436.5,263.2 437.0,263.2 437.5,263.2 438.0,263.2 438.5,263.2 439.0,263.2 439.5,263.2 440.0,263.2 440.5,263.2 441.0,263.2 441.5,263.2 442.0,263.2 442.5,263.2 443.0,263.2 443.5,263.2 444.0,263.2 444.5,263.2 445.0,263.2 445.5,263.2 446.0,263.2 446.5,263.2 447.0,263.2 447.5,263.2 448.0,263.2 448.5,263.2 449.0,263.2 449.5,263.2 450.0,263.2 450.5,263.2 451.0,263.2 451.5,263.2 452.0,263.2 452.5,263.2 453.0,263.2 453.5,263.2 454.0,263.2 454.5,263.2 455.0,263.2 455.5,263.2 456.0,263.2 456.5,263.2 457.0,263.2 457.5,263.2 458.0,263.2 458.5,263.2 459.0,263.2 459.5,263.2 460.0,263.2 460.5,263.2 461.0,263.2 461.5,263.2 462.0,263.2 462.5,263.2 463.0,263.2 463.5,263.2 464.0,263.2 464.5,263.2 465.0,263.2 465.5,263.2 466.0,263.2 466.5,263.2 467.0,263.2 467.5,263.2 468.0,263.2 468.5,263.2 469.0,263.2 469.5,263.2 470.0,263.2 470.5,263.2 471.0,263.2 471.5,263.2 472.0,263.2 472.5,263.2 473.0,263.2 473.5,263.2 474.0,263.2 474.5,263.2 475.0,263.2"/>
<polyline stroke="#ffff19" points="52.0,4.1 52.5,7.4 53.0,11.5 53.5,16.1 54.0,20.8 54.5,25.6 55.0,30.2 55.5,34.9 56.0,39.5 56.5,44.0 57.0,48.4 57.5,52.9 58.0,57.2 58.5,61.6 59.0,66.0 59.5,70.3 60.0,74.6 60.5,78.6 61.0,82.4 61.5,85.8 62.0,88.8 62.5,91.6 63.0,94.0 63.5,96.1 64.0,98.0 64.5,99.6 65.0,101.0 65.5,102.0 66.0,102.8 66.5,103.5 67.0,104.0 67.5,104.3 68.0,104.5 68.5,104.6 69.0,104.5 69.5,104.3 70.0,104.1 70.5,103.7 71.0,103.2 71.5,102.5 72.0,101.7 72.5,100.7 73.0,99.5 73.5,98.3 74.0,97.0 74.5,95.6 75.0,94.2 75.5,92.8 76.0,91.4 76.5,89.9 77.0,88.5 77.5,87.1 78.0,85.7 78.5,84.3 79.0,82.9 79.5,81.5 80.0,80.1 80.5,78.7 81.0,77.3 81.5,76.0 82.0,74.7 82.5,73.4 83.0,72.2 83.5,71.2 84.0,70.2 84.5,69.4 85.0,68.7 85.5,68.2 86.0,67.9 86.5,67.8 87.0,68.0 87.5,68.5 88.0,69.4 88.5,70.6 89.0,72.1 89.5,74.0 90.0,76.2 90.5,78.7 91.0,81.3 91.5,84.1 92.0,87.1 92.5,90.0 93.0,93.0 93.5,96.1 94.0,99.2 94.5,102.5 95.0,105.7 95.5,109.1 96.0,112.6 96.5,116.0 97.0,119.6 97.5,123.1 98.0,126.7 98.5,130.3 99.0,133.9 99.5,137.5 100.0,141.2 100.5,144.8 101.0,148.4 101.5,152.0 102.0,155.6 102.5,159.1 103.0,162.4 103.5,165.5 104.0,168.3 104.5,170.7 105.0,172.8 105.5,174.7 106.0,176.4 106.5,177.9 107.0,179.3 107.5,180.5 108.0,181.6 108.5,182.6 109.0,183.5 109.5,184.2 110.0,184.9 110.5,185.6 111.0,186.1 111.5,186.6 112.0,187.1 112.5,187.6 113.0,188.0 113.5,188.4 114.0,188.7 114.5,189.1 115.0,189.4 115.5,189.7 116.0,189.9 116.5,190.2 117.0,190.4 117.5,190.7 118.0,190.9 118.5,191.1 119.0,191.2 119.5,191.4 120.0,191.6 120.5,191.8 121.0,191.9 121.5,192.1 122.0,192.3 122.5,192.4 123.0,192.5 123.5,192.6 124.0,192.6 124.5,192.6 125.0,192.6 125.5,192.5 126.0,192.5 126.5,192.4 127.0,192.2 127.5,192.0 128.0,191.7 128.5,191.4 129.0,191.0 129.5,190.7 130.0,190.3 130.5,190.0 131.0,189.7 131.5,189.5 132.0,189.5 132.5,189.5 133.0,189.7 133.5,190.0 134.0,190.2 134.5,190.5 135.0,190.8 135.5,191.1 136.0,191.4 136.5,191.7 137.0,192.0 137.5,192.2 138.0,192.4 138.5,192.6 139.0,192.8 139.5,193.0 140.0,193.2 140.5,193.3 141.0,193.5 141.5,193.7 142.0,193.8 142.5,194.0 143.0,194.1 143.5,194.2 144.0,194.4 144.5,194.5 145.0,194.6 145.5,194.7 146.0,194.8 146.5,194.9 147.0,195.1 147.5,195.2 148.0,195.3 148.5,195.4 149.0,195.4 149.5,195.5 150.0,195.6 150.5,195.6 151.0,195.6 151.5,195.6 152.0,195.6 152.5,195.6 153.0,195.5 153.5,195.5 154.0,195.4 154.5,195.3 155.0,195.1 155.5,195.0 156.0,194.8 156.5,194.6 157.0,194.4 157.5,194.2 158.0,194.0 158.5,193.8 159.0,193.5 159.5,193.3 160.0,193.0 160.5,192.7 161.0,192.4 161.5,192.1 162.0,191.8 162.5,191.5 163.0,191.2 163.5,190.8 164.0,190.5 164.5,190.1 165.0,189.7 165.5,189.3 166.0,188.9 166.5,188.5 167.0,188.1 167.5,187.6 168.0,187.2 168.5,186.8 169.0,186.3 169.5,185.8 170.0,185.4 170.5,184.9 171.0,184.5 171.5,184.0 172.0,183.5 172.5,183.1 173.0,182.6 173.5,182.1 174.0,181.7 174.5,181.3 175.0,180.9 175.5,180.5 176.0,180.2 176.5,179.9 177.0,179.6 177.5,179.4 178.0,179.3 178.5,179.3 179.0,179.3 179.5,179.4 180.0,179.5 180.5,179.6 181.0,179.8 181.5,180.0 182.0,180.2 182.5,180.5 183.0,180.8 183.5,181.2 184.0,181.5 184.5,181.9 185.0,182.4 185.5,182.8 186.0,183.3 186.5,183.9 187.0,184.4 187.5,184.9 188.0,185.5 188.5,186.1 189.0,186.6 189.5,187.2 190.0,187.8 190.5,188.5 191.0,189.1 191.5,189.7 192.0,190.4 192.5,191.1 193.0,191.8 193.5,192.5 194.0,193.3 194.5,194.0 195.0,194.7 195.5,195.5 196.0,196.2 196.5,196.9 197.0,197.7 197.5,198.4 198.0,199.2 198.5,199.9 199.0,200.6 199.5,201.3 200.0,202.0 200.5,202.7 201.0,203.3 201.5,204.0 202.0,204.6 202.5,205.3 203.0,205.9 203.5,206.5 204.0,207.1 204.5,207.7 205.0,208.2 205.5,208.8 206.0,209.3 206.5,209.8 207.0,210.3 207.5,210.8 208.0,211.3 208.5,211.7 209.0,212.2 209.5,212.6 210.0,213.0 210.5,213.4 211.0,213.7 211.5,214.1 212.0,214.4 212.5,214.8 213.0,215.1 213.5,215.4 214.0,215.6 214.5,215.9 215.0,216.1 215.5,216.3 216.0,216.4 216.5,216.6 217.0,216.8 217.5,217.0 218.0,217.1 218.5,217.2 219.0,217.3 219.5,217.4 220.0,217.4 220.5,217.4 221.0,217.4 221.5,217.4 222.0,217.4 222.5,217.4 223.0,217.4 223.5,217.4 224.0,217.3 224.5,217.3 225.0,217.3 225.5,217.3 226.0,217.3 226.5,217.2 227.0,217.2 227.5,217.1 228.0,217.1 228.5,217.0 229.0,217.0 229.5,216.9 230.0,216.8 230.5,216.7 231.0,216.7 231.5,216.6 232.0,216.5 232.5,216.4 233.0,216.3 233.5,216.2 234.0,216.1 234.5,216.1 235.0,216.0 235.5,215.9 236.0,215.8 236.5,215.7 237.0,215.7 237.5,215.6 238.0,215.5 238.5,215.4 239.0,215.3 239.5,215.3 240.0,215.2 240.5,215.1 241.0,215.0 241.5,214.9 242.0,214.8 242.5,214.7 243.0,214.7 243.5,214.6 244.0,214.5 244.5,214.4 245.0,214.3 245.5,214.2 246.0,214.1 246.5,214.0 247.0,213.9 247.5,213.8 248.0,213.7 248.5,213.6 249.0,213.5 249.5,213.4 250.0,213.3 250.5,213.2 251.0,213.1 251.5,213.0 252.0,212.9 252.5,212.8 253.0,212.7 253.5,212.6 254.0,212.5 254.5,212.5 255.0,212.4 255.5,212.3 256.0,212.3 256.5,212.2 257.0,212.1 257.5,212.1 258.0,212.0 258.5,212.0 259.0,211.9 259.5,211.8 260.0,211.8 260.5,211.7 261.0,211.7 261.5,211.6 262.0,211.6 262.5,211.5 263.0,211.5 263.5,211.4 264.0,211.4 264.5,211.3 265.0,211.3 265.5,211.2 266.0,211.2 266.5,211.1 267.0,211.1 267.5,211.1 268.0,211.0 268.5,211.0 269.0,210.9 269.5,210.9 270.0,210.9 270.5,210.8 271.0,210.8 271.5,210.7 272.0,210.6 272.5,210.6 273.0,210.5 273.5,210.4 274.0,210.3 274.5,210.2 275.0,210.1 275.5,209.9 276.0,209.8 276.5,209.6 277.0,209.4 277.5,209.3 278.0,209.1 278.5,208.9 279.0,208.6 279.5,208.4 280.0,208.1 280.5,207.8 281.0,207.5 281.5,207.2 282.0,206.8 282.5,206.5 283.0,206.1 283.5,205.7 284.0,205.3 284.5,204.8 285.0,204.3 285.5,203.9 286.0,203.4 286.5,202.8 287.0,202.2 287.5,201.6 288.0,201.0 288.5,200.4 289.0,199.7 289.5,199.1 290.0,198.5 290.5,198.0 291.0,197.5 291.5,197.0 292.0,196.6 292.5,196.2 293.0,195.8 293.5,195.3 294.0,194.9 294.5,194.5 295.0,194.1 295.5,193.6 296.0,193.2 296.5,192.7 297.0,192.3 297.5,191.9 298.0,191.4 298.5,190.9 299.0,190.5 299.5,190.0 300.0,189.4 300.5,188.9 301.0,188.4 301.5,187.8 302.0,187.2 302.5,186.6 303.0,186.0 303.5,185.4 304.0,184.8 304.5,184.2 305.0,183.5 305.5,182.8 306.0,182.1 306.5,181.4 307.0,180.6 307.5,179.8 308.0,178.9 308.5,177.9 309.0,176.8 309.5,175.5 310.0,174.0 310.5,172.5 311.0,170.8 311.5,169.2 312.0,167.7 312.5,166.4 313.0,165.1 313.5,164.0 314.0,162.9 314.5,161.8 315.0,160.8 315.5,159.8 316.0,158.8 316.5,157.7 317.0,156.7 317.5,155.6 318.0,154.6 318.5,153.5 319.0,152.5 319.5,151.6 320.0,150.7 320.5,149.8 321.0,149.0 321.5,148.2 322.0,147.4 322.5,146.7 323.0,146.0 323.5,145.4 324.0,144.7 324.5,144.1 325.0,143.4 325.5,142.8 326.0,142.1 326.5,141.5 327.0,140.9 327.5,140.2 328.0,139.6 328.5,139.0 329.0,138.5 329.5,137.9 330.0,137.3 330.5,136.7 331.0,136.1 331.5,135.4 332.0,134.6 332.5,133.8 333.0,132.9 333.5,131.9 334.0,130.9 334.5,129.8 335.0,128.7 335.5,127.6 336.0,126.5 336.5,125.3 337.0,124.2 337.5,123.0 338.0,121.9 338.5,120.7 339.0,119.5 339.5,118.3 340.0,117.0 340.5,115.5 341.0,114.0 341.5,112.3 342.0,110.6 342.5,108.7 343.0,106.8 343.5,104.9 344.0,103.0 344.5,101.0 345.0,99.1 345.5,97.1 346.0,95.1 346.5,93.2 347.0,91.2 347.5,89.4 348.0,87.6 348.5,85.9 349.0,84.2 349.5,82.6 350.0,81.0 350.5,79.6 351.0,78.1 351.5,76.8 352.0,75.5 352.5,74.4 353.0,73.3 353.5,72.4 354.0,71.6 354.5,71.0 355.0,70.4 355.5,70.1 356.0,69.9 356.5,69.8 357.0,70.0 357.5,70.3 358.0,70.9 358.5,71.7 359.0,72.7 359.5,74.0 360.0,75.7 360.5,77.9 361.0,80.4 361.5,83.3 362.0,86.4 362.5,89.8 363.0,93.3 363.5,97.0 364.0,100.8 364.5,104.8 365.0,109.0 365.5,113.4 366.0,118.0 366.5,122.8 367.0,127.7 367.5,132.7 368.0,137.8 368.5,142.8 369.0,147.8 369.5,152.8 370.0,157.9 370.5,163.0 371.0,168.1 371.5,173.2 372.0,178.3 372.5,183.3 373.0,188.3 373.5,193.1 374.0,197.8 374.5,202.3 375.0,206.6 375.5,210.5 376.0,214.1 376.5,217.5 377.0,220.6 377.5,223.5 378.0,226.2 378.5,228.9 379.0,231.4 379.5,233.8 380.0,236.1 380.5,238.2 381.0,240.2 381.5,242.1 382.0,243.9 382.5,245.4 383.0,246.9 383.5,248.2 384.0,249.4 384.5,250.4 385.0,251.3 385.5,252.1 386.0,252.9 386.5,253.6 387.0,254.2 387.5,254.8 388.0,255.4 388.5,255.9 389.0,256.4 389.5,256.9 390.0,257.3 390.5,257.8 391.0,258.1 391.5,258.5 392.0,258.9 392.5,259.2 393.0,259.5 393.5,259.8 394.0,260.1 394.5,260.4 395.0,260.6 395.5,260.9 396.0,261.1 396.5,261.2 397.0,261.4 397.5,261.5 398.0,261.7 398.5,261.8 399.0,261.9 399.5,262.0 400.0,262.1 400.5,262.2 401.0,262.3 401.5,262.4 402.0,262.5 402.5,262.6 403.0,262.7 403.5,262.8 404.0,262.8 404.5,262.9 405.0,262.9 405.5,263.0 406.0,263.0 406.5,263.0 407.0,263.1 407.5,263.1 408.0,263.1 408.5,263.1 409.0,263.1 409.5,263.1 410.0,263.2 410.5,263.2 411.0,263.2 411.5,263.2 412.0,263.2 412.5,263.2 413.0,263.2 413.5,263.2 414.0,263.2 414.5,263.2 415.0,263.2 415.5,263.2 416.0,263.2 416.5,263.2 417.0,263.2 417.5,263.2 418.0,263.2 418.5,263.2 419.0,263.2 419.5,263.2 420.0,263.2 420.5,263.2 421.0,263.2 421.5,263.2 422.0,263.2 422.5,263.2 423.0,263.2 423.5,263.2 424.0,263.2 424.5,263.2 425.0,263.2 425.5,263.2 426.0,263.2 426.5,263.2 427.0,263.2 427.5,263.2 428.0,263.2 428.5,263.2 429.0,263.2 429.5,263.2 430.0,263.2 430.5,263.2 431.0,263.2 431.5,263.2 432.0,263.2 432.5,263.2 433.0,263.2 433.5,263.2 434.0,263.2 434.5,263.2 435.0,263.2 435.5,263.2 436.0,263.2 436.5,263.2 437.0,263.2 437.5,263.2 438.0,263.2 438.5,263.2 439.0,263.2 439.5,263.2 440.0,263.2 440.5,263.2 441.0,263.2 441.5,263.2 442.0,263.2 442.5,263.2 443.0,263.2 443.5,263.2 444.0,263.2 444.5,263.2 445.0,263.2 445.5,263.2 446.0,263.2 446.5,263.2 447.0,263.2 447.5,263.2 448.0,263.2 448.5,263.2 449.0,263.2 449.5,263.2 450.0,263.2 450.5,263.2 451.0,263.2 451.5,263.2 452.0,263.2 452.5,263.2 453.0,263.2 453.5,263.2 454.0,263.2 454.5,263.2 455.0,263.2 455.5,263.2 456.0,263.2 456.5,263.2 457.0,263.2 457.5,263.2 458.0,263.2 458.5,263.2 459.0,263.2 459.5,263.2 460.0,263.2 460.5,263.2 461.0,263.2 461.5,263.2 462.0,263.2 462.5,263.2 463.0,263.2 463.5,263.2 464.0,263.2 464.5,263.2 465.0,263.2 465.5,263.2 466.0,263.2 466.5,263.2 467.0,263.2 467.5,263.2 468.0,263.2 468.5,263.2 469.0,263.2 469.5,263.2 470.0,263.2 470.5,263.2 471.0,263.2 471.5,263.2 472.0,263.2 472.5,263.2 473.0,263.2 473.5,263.2 474.0,263.2 474.5,263.2 475.0,263.2"/>
<polyline stroke="#bf8a48" points="52.0,1.0 52.5,4.2 53.0,8.3 53.5,12.9 54.0,17.7 54.5,22.4 55.0,27.1 55.5,31.7 56.0,36.3 56.5,40.9 57.0,45.4 57.5,49.8 58.0,54.3 58.5,58.7 59.0,63.2 59.5,67.6 60.0,71.9 60.5,76.0 61.0,79.9 61.5,83.3 62.0,86.4 62.5,89.2 63.0,91.7 63.5,93.9 64.0,95.8 64.5,97.4 65.0,98.7 65.5,99.8 66.0,100.6 66.5,101.2 67.0,101.6 67.5,102.0 68.0,102.1 68.5,102.2 69.0,102.0 69.5,101.8 70.0,101.5 70.5,101.1 71.0,100.6 71.5,99.8 72.0,99.0 72.5,97.9 73.0,96.7 73.5,95.4 74.0,94.0 74.5,92.6 75.0,91.2 75.5,89.8 76.0,88.3 76.5,86.8 77.0,85.4 77.5,84.0 78.0,82.6 78.5,81.2 79.0,79.8 79.5,78.5 80.0,77.1 80.5,75.7 81.0,74.4 81.5,73.0 82.0,71.8 82.5,70.6 83.0,69.4 83.5,68.4 84.0,67.5 84.5,66.7 85.0,66.0 85.5,65.6 86.0,65.3 86.5,65.3 87.0,65.6 87.5,66.2 88.0,67.1 88.5,68.3 89.0,69.9 89.5,71.8 90.0,74.1 90.5,76.6 91.0,79.3 91.5,82.1 92.0,85.1 92.5,88.1 93.0,91.1 93.5,94.2 94.0,97.4 94.5,100.7 95.0,104.0 95.5,107.4 96.0,110.8 96.5,114.3 97.0,117.8 97.5,121.4 98.0,125.0 98.5,128.7 99.0,132.3 99.5,136.0 100.0,139.7 100.5,143.4 101.0,147.1 101.5,150.8 102.0,154.4 102.5,158.0 103.0,161.4 103.5,164.6 104.0,167.4 104.5,169.8 105.0,172.0 105.5,173.8 106.0,175.5 106.5,177.0 107.0,178.4 107.5,179.6 108.0,180.7 108.5,181.6 109.0,182.5 109.5,183.2 110.0,183.9 110.5,184.5 111.0,185.1 111.5,185.6 112.0,186.0 112.5,186.4 113.0,186.8 113.5,187.2 114.0,187.5 114.5,187.8 115.0,188.1 115.5,188.4 116.0,188.6 116.5,188.8 117.0,189.0 117.5,189.2 118.0,189.4 118.5,189.5 119.0,189.7 119.5,189.8 120.0,189.9 120.5,190.0 121.0,190.1 121.5,190.2 122.0,190.3 122.5,190.3 123.0,190.4 123.5,190.4 124.0,190.4 124.5,190.4 125.0,190.3 125.5,190.2 126.0,190.1 126.5,190.0 127.0,189.8 127.5,189.5 128.0,189.2 128.5,188.8 129.0,188.4 129.5,188.0 130.0,187.6 130.5,187.2 131.0,186.9 131.5,186.7 132.0,186.6 132.5,186.7 133.0,186.8 133.5,187.1 134.0,187.4 134.5,187.7 135.0,188.0 135.5,188.3 136.0,188.6 136.5,188.9 137.0,189.2 137.5,189.4 138.0,189.6 138.5,189.8 139.0,190.0 139.5,190.2 140.0,190.3 140.5,190.5 141.0,190.6 141.5,190.7 142.0,190.9 142.5,191.0 143.0,191.1 143.5,191.2 144.0,191.3 144.5,191.3 145.0,191.4 145.5,191.4 146.0,191.5 146.5,191.5 147.0,191.5 147.5,191.6 148.0,191.6 148.5,191.6 149.0,191.6 149.5,191.6 150.0,191.5 150.5,191.5 151.0,191.4 151.5,191.3 152.0,191.2 152.5,191.1 153.0,191.0 153.5,190.9 154.0,190.7 154.5,190.6 155.0,190.4 155.5,190.2 156.0,190.0 156.5,189.7 157.0,189.5 157.5,189.2 158.0,189.0 158.5,188.7 159.0,188.5 159.5,188.2 160.0,187.9 160.5,187.6 161.0,187.3 161.5,187.0 162.0,186.7 162.5,186.3 163.0,186.0 163.5,185.6 164.0,185.3 164.5,184.9 165.0,184.5 165.5,184.1 166.0,183.7 166.5,183.3 167.0,182.8 167.5,182.4 168.0,182.0 168.5,181.6 169.0,181.1 169.5,180.7 170.0,180.3 170.5,179.8 171.0,179.4 171.5,178.9 172.0,178.5 172.5,178.0 173.0,177.6 173.5,177.2 174.0,176.7 174.5,176.4 175.0,176.0 175.5,175.7 176.0,175.3 176.5,175.1 177.0,174.9 177.5,174.7 178.0,174.6 178.5,174.6 179.0,174.7 179.5,174.8 180.0,174.9 180.5,175.0 181.0,175.2 181.5,175.4 182.0,175.7 182.5,175.9 183.0,176.3 183.5,176.6 184.0,177.0 184.5,177.4 185.0,177.8 185.5,178.3 186.0,178.8 186.5,179.3 187.0,179.9 187.5,180.4 188.0,181.0 188.5,181.6 189.0,182.2 189.5,182.8 190.0,183.4 190.5,184.0 191.0,184.7 191.5,185.3 192.0,186.0 192.5,186.7 193.0,187.4 193.5,188.2 194.0,188.9 194.5,189.7 195.0,190.5 195.5,191.2 196.0,192.0 196.5,192.8 197.0,193.5 197.5,194.3 198.0,195.1 198.5,195.8 199.0,196.6 199.5,197.3 200.0,198.0 200.5,198.7 201.0,199.4 201.5,200.1 202.0,200.8 202.5,201.4 203.0,202.1 203.5,202.7 204.0,203.3 204.5,203.9 205.0,204.5 205.5,205.1 206.0,205.6 206.5,206.2 207.0,206.7 207.5,207.2 208.0,207.7 208.5,208.2 209.0,208.6 209.5,209.1 210.0,209.5 210.5,209.9 211.0,210.3 211.5,210.7 212.0,211.0 212.5,211.4 213.0,211.7 213.5,212.0 214.0,212.3 214.5,212.6 215.0,212.8 215.5,213.0 216.0,213.2 216.5,213.4 217.0,213.6 217.5,213.7 218.0,213.9 218.5,214.0 219.0,214.1 219.5,214.2 220.0,214.2 220.5,214.2 221.0,214.2 221.5,214.2 222.0,214.2 222.5,214.2 223.0,214.1 223.5,214.1 224.0,214.1 224.5,214.1 225.0,214.1 225.5,214.0 226.0,214.0 226.5,214.0 227.0,213.9 227.5,213.9 228.0,213.8 228.5,213.7 229.0,213.7 229.5,213.6 230.0,213.5 230.5,213.4 231.0,213.3 231.5,213.2 232.0,213.1 232.5,213.0 233.0,212.9 233.5,212.8 234.0,212.7 234.5,212.6 235.0,212.5 235.5,212.4 236.0,212.3 236.5,212.2 237.0,212.1 237.5,212.0 238.0,211.9 238.5,211.8 239.0,211.7 239.5,211.6 240.0,211.5 240.5,211.4 241.0,211.3 241.5,211.2 242.0,211.1 242.5,211.0 243.0,210.9 243.5,210.8 244.0,210.7 244.5,210.6 245.0,210.5 245.5,210.4 246.0,210.3 246.5,210.2 247.0,210.0 247.5,209.9 248.0,209.8 248.5,209.7 249.0,209.5 249.5,209.4 250.0,209.3 250.5,209.2 251.0,209.0 251.5,208.9 252.0,208.8 252.5,208.7 253.0,208.6 253.5,208.5 254.0,208.4 254.5,208.3 255.0,208.2 255.5,208.1 256.0,208.0 256.5,208.0 257.0,207.9 257.5,207.8 258.0,207.8 258.5,207.7 259.0,207.6 259.5,207.6 260.0,207.5 260.5,207.4 261.0,207.4 261.5,207.3 262.0,207.3 262.5,207.2 263.0,207.1 263.5,207.1 264.0,207.0 264.5,207.0 265.0,206.9 265.5,206.8 266.0,206.8 266.5,206.7 267.0,206.7 267.5,206.6 268.0,206.6 268.5,206.5 269.0,206.5 269.5,206.4 270.0,206.4 270.5,206.3 271.0,206.3 271.5,206.2 272.0,206.1 272.5,206.1 273.0,206.0 273.5,205.9 274.0,205.8 274.5,205.7 275.0,205.6 275.5,205.5 276.0,205.4 276.5,205.2 277.0,205.1 277.5,205.0 278.0,204.8 278.5,204.6 279.0,204.4 279.5,204.2 280.0,204.0 280.5,203.8 281.0,203.5 281.5,203.3 282.0,203.0 282.5,202.7 283.0,202.4 283.5,202.0 284.0,201.7 284.5,201.3 285.0,200.9 285.5,200.4 286.0,200.0 286.5,199.5 287.0,199.0 287.5,198.4 288.0,197.8 288.5,197.2 289.0,196.6 289.5,196.0 290.0,195.5 290.5,195.0 291.0,194.6 291.5,194.1 292.0,193.7 292.5,193.4 293.0,193.0 293.5,192.6 294.0,192.3 294.5,191.9 295.0,191.5 295.5,191.1 296.0,190.7 296.5,190.3 297.0,189.9 297.5,189.5 298.0,189.1 298.5,188.7 299.0,188.2 299.5,187.8 300.0,187.3 300.5,186.8 301.0,186.3 301.5,185.7 302.0,185.2 302.5,184.6 303.0,184.0 303.5,183.4 304.0,182.8 304.5,182.2 305.0,181.6 305.5,180.9 306.0,180.2 306.5,179.5 307.0,178.7 307.5,177.9 308.0,177.0 308.5,176.0 309.0,174.9 309.5,173.6 310.0,172.1 310.5,170.4 311.0,168.8 311.5,167.2 312.0,165.7 312.5,164.3 313.0,163.1 313.5,162.0 314.0,160.9 314.5,159.9 315.0,158.9 315.5,158.0 316.0,157.0 316.5,155.9 317.0,154.9 317.5,153.9 318.0,152.8 318.5,151.8 319.0,150.8 319.5,149.9 320.0,149.0 320.5,148.2 321.0,147.5 321.5,146.8 322.0,146.2 322.5,145.6 323.0,144.9 323.5,144.3 324.0,143.7 324.5,143.1 325.0,142.5 325.5,141.9 326.0,141.3 326.5,140.7 327.0,140.2 327.5,139.6 328.0,139.0 328.5,138.5 329.0,137.9 329.5,137.4 330.0,136.9 330.5,136.3 331.0,135.7 331.5,135.1 332.0,134.3 332.5,133.5 333.0,132.6 333.5,131.6 334.0,130.6 334.5,129.6 335.0,128.5 335.5,127.3 336.0,126.2 336.5,125.0 337.0,123.7 337.5,122.5 338.0,121.3 338.5,120.1 339.0,118.9 339.5,117.6 340.0,116.2 340.5,114.8 341.0,113.2 341.5,111.5 342.0,109.7 342.5,107.8 343.0,105.9 343.5,103.9 344.0,101.9 344.5,100.0 345.0,98.0 345.5,96.0 346.0,93.9 346.5,91.9 347.0,89.9 347.5,88.0 348.0,86.1 348.5,84.2 349.0,82.4 349.5,80.7 350.0,79.0 350.5,77.4 351.0,75.9 351.5,74.5 352.0,73.2 352.5,72.0 353.0,70.9 353.5,69.9 354.0,69.0 354.5,68.3 355.0,67.7 355.5,67.2 356.0,67.0 356.5,66.9 357.0,67.0 357.5,67.3 358.0,67.8 358.5,68.6 359.0,69.6 359.5,70.9 360.0,72.6 360.5,74.7 361.0,77.2 361.5,80.0 362.0,83.1 362.5,86.4 363.0,89.9 363.5,93.7 364.0,97.6 364.5,101.7 365.0,105.9 365.5,110.4 366.0,115.1 366.5,119.9 367.0,124.8 367.5,129.9 368.0,134.9 368.5,139.9 369.0,145.0 369.5,150.0 370.0,155.1 370.5,160.2 371.0,165.4 371.5,170.6 372.0,175.8 372.5,181.0 373.0,186.1 373.5,191.0 374.0,195.9 374.5,200.6 375.0,205.0 375.5,209.1 376.0,212.9 376.5,216.3 377.0,219.5 377.5,222.5 378.0,225.3 378.5,228.0 379.0,230.6 379.5,233.0 380.0,235.4 380.5,237.6 381.0,239.6 381.5,241.5 382.0,243.3 382.5,244.9 383.0,246.4 383.5,247.8 384.0,249.0 384.5,250.0 385.0,251.0 385.5,251.8 386.0,252.6 386.5,253.3 387.0,254.0 387.5,254.6 388.0,255.2 388.5,255.8 389.0,256.3 389.5,256.8 390.0,257.2 390.5,257.6 391.0,258.0 391.5,258.4 392.0,258.7 392.5,259.1 393.0,259.4 393.5,259.7 394.0,260.0 394.5,260.3 395.0,260.6 395.5,260.8 396.0,261.0 396.5,261.2 397.0,261.3 397.5,261.5 398.0,261.6 398.5,261.8 399.0,261.9 399.5,262.0 400.0,262.1 400.5,262.2 401.0,262.3 401.5,262.4 402.0,262.5 402.5,262.6 403.0,262.7 403.5,262.7 404.0,262.8 404.5,262.9 405.0,262.9 405.5,262.9 406.0,263.0 406.5,263.0 407.0,263.1 407.5,263.1 408.0,263.1 408.5,263.1 409.0,263.1 409.5,263.1 410.0,263.2 410.5,263.2 411.0,263.2 411.5,263.2 412.0,263.2 412.5,263.2 413.0,263.2 413.5,263.2 414.0,263.2 414.5,263.2 415.0,263.2 415.5,263.2 416.0,263.2 416.5,263.2 417.0,263.2 417.5,263.2 418.0,263.2 418.5,263.2 419.0,263.2 419.5,263.2 420.0,263.2 420.5,263.2 421.0,263.2 421.5,263.2 422.0,263.2 422.5,263.2 423.0,263.2 423.5,263.2 424.0,263.2 424.5,263.2 425.0,263.2 425.5,263.2 426.0,263.2 426.5,263.2 427.0,263.2 427.5,263.2 428.0,263.2 428.5,263.2 429.0,263.2 429.5,263.2 430.0,263.2 430.5,263.2 431.0,263.2 431.5,263.2 432.0,263.2 432.5,263.2 433.0,263.2 433.5,263.2 434.0,263.2 434.5,263.2 435.0,263.2 435.5,263.2 436.0,263.2 436.5,263.2 437.0,263.2 437.5,263.2 438.0,263.2 438.5,263.2 439.0,263.2 439.5,263.2 440.0,263.2 440.5,263.2 441.0,263.2 441.5,263.2 442.0,263.2 442.5,263.2 443.0,263.2 443.5,263.2 444.0,263.2 444.5,263.2 445.0,263.2 445.5,263.2 446.0,263.2 446.5,263.2 447.0,263.2 447.5,263.2 448.0,263.2 448.5,263.2 449.0,263.2 449.5,263.2 450.0,263.2 450.5,263.2 451.0,263.2 451.5,263.2 452.0,263.2 452.5,263.2 453.0,263.2 453.5,263.2 454.0,263.2 454.5,263.2 455.0,263.2 455.5,263.2 456.0,263.2 456.5,263.2 457.0,263.2 457.5,263.2 458.0,263.2 458.5,263.2 459.0,263.2 459.5,263.2 460.0,263.2 460.5,263.2 461.0,263.2 461.5,263.2 462.0,263.2 462.5,263.2 463.0,263.2 463.5,263.2 464.0,263.2 464.5,263.2 465.0,263.2 465.5,263.2 466.0,263.2 466.5,263.2 467.0,263.2 467.5,263.2 468.0,263.2 468.5,263.2 469.0,263.2 469.5,263.2 470.0,263.2 470.5,263.2 471.0,263.2 471.5,263.2 472.0,263.2 472.5,263.2 473.0,263.2 473.5,263.2 474.0,263.2 474.5,263.2 475.0,263.2"/>
</g>
<path d="M383 17.7H401.4" stroke="#7a35c4" stroke-width="1.5" fill="none"/>
<text class="l" x="403.6" y="21.1" textLength="55.9" lengthAdjust="spacingAndGlyphs">50µM NaFl</text>
<path d="M383 38.4H401.4" stroke="#ff8c4a" stroke-width="1.5" fill="none"/>
<text class="l" x="403.6" y="41.8" textLength="117.1" lengthAdjust="spacingAndGlyphs">50µM NaFl+10µM 4NP</text>
<path d="M383 59.0H401.4" stroke="#b9b9b9" stroke-width="1.5" fill="none"/>
<text class="l" x="403.6" y="62.4" textLength="117.1" lengthAdjust="spacingAndGlyphs">50µM NaFl+20µM 4NP</text>
<path d="M383 79.7H401.4" stroke="#ff1414" stroke-width="1.5" fill="none"/>
<text class="l" x="403.6" y="83.1" textLength="117.1" lengthAdjust="spacingAndGlyphs">50µM NaFl+30µM 4NP</text>
<path d="M383 100.3H401.4" stroke="#1fbcff" stroke-width="1.5" fill="none"/>
<text class="l" x="403.6" y="103.7" textLength="117.1" lengthAdjust="spacingAndGlyphs">50µM NaFl+40µM 4NP</text>
<path d="M383 121.0H401.4" stroke="#1a1a1a" stroke-width="1.5" fill="none"/>
<text class="l" x="403.6" y="124.4" textLength="117.1" lengthAdjust="spacingAndGlyphs">50µM NaFl+50µM 4NP</text>
<path d="M383 141.7H401.4" stroke="#95d94e" stroke-width="1.5" fill="none"/>
<text class="l" x="403.6" y="145.1" textLength="117.1" lengthAdjust="spacingAndGlyphs">50µM NaFl+60µM 4NP</text>
<path d="M383 162.3H401.4" stroke="#1f3cff" stroke-width="1.5" fill="none"/>
<text class="l" x="403.6" y="165.7" textLength="117.1" lengthAdjust="spacingAndGlyphs">50µM NaFl+70µM 4NP</text>
<path d="M383 183.0H401.4" stroke="#ff3cff" stroke-width="1.5" fill="none"/>
<text class="l" x="403.6" y="186.4" textLength="117.1" lengthAdjust="spacingAndGlyphs">50µM NaFl+80µM 4NP</text>
<path d="M383 203.6H401.4" stroke="#ffff19" stroke-width="1.5" fill="none"/>
<text class="l" x="403.6" y="207.0" textLength="117.1" lengthAdjust="spacingAndGlyphs">50µM NaFl+90µM 4NP</text>
<path d="M383 224.3H401.4" stroke="#bf8a48" stroke-width="1.5" fill="none"/>
<text class="l" x="403.6" y="227.7" textLength="123.4" lengthAdjust="spacingAndGlyphs">50µM NaFl+100µM 4NP</text>
</svg></body></html>
